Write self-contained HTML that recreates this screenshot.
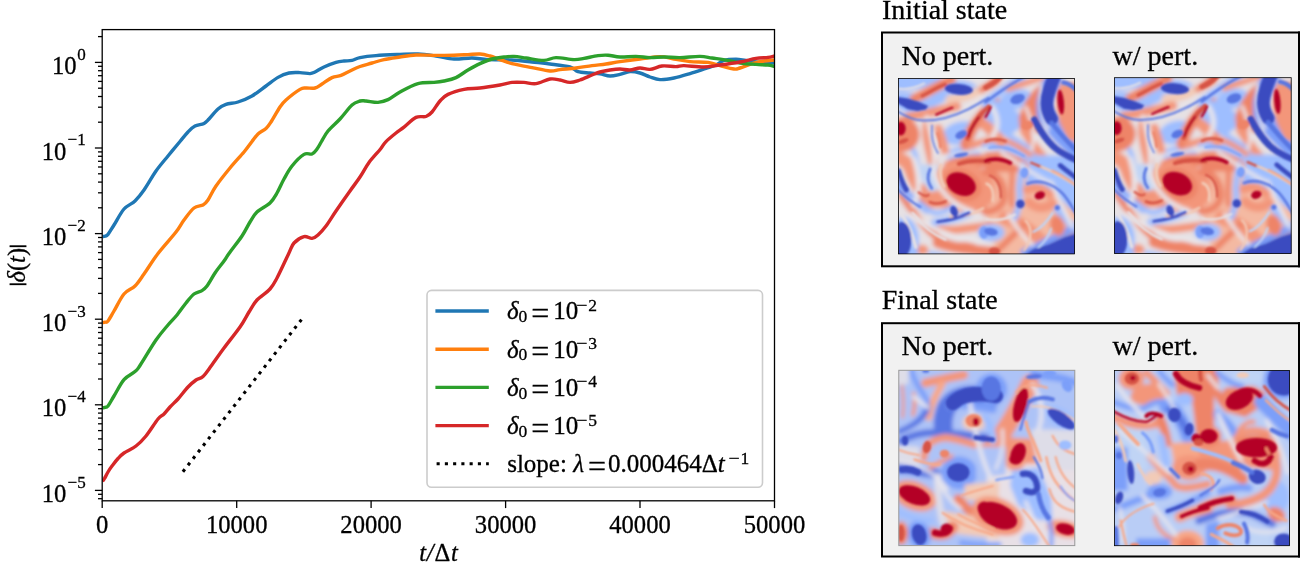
<!DOCTYPE html>
<html lang="en"><head><meta charset="utf-8"><title>Perturbation growth</title>
<style>html,body{margin:0;padding:0;background:#fff;}body{width:1300px;height:562px;overflow:hidden;position:relative;}svg{display:block;position:absolute;left:0;top:0;}text{font-family:"Liberation Serif", serif;fill:#000;stroke:#000;stroke-width:0.3px;}.it{font-style:italic;}</style></head><body>
<svg width="1300" height="562" viewBox="0 0 1300 562">
<rect x="0" y="0" width="1300" height="562" fill="#fff"/>
<defs><clipPath id="axclip"><rect x="102.2" y="29.6" width="672.3" height="471.2"/></clipPath></defs>
<g clip-path="url(#axclip)" fill="none" stroke-width="3.4" stroke-linejoin="round" stroke-linecap="butt">
<path d="M102.5,236.6C102.9,236.5 104.1,236.6 105.0,236.2C105.9,235.8 106.5,236.3 108.0,234.4C109.5,232.5 111.3,229.2 114.0,225.0C116.7,220.8 120.5,213.0 124.0,209.0C127.5,205.0 131.7,204.2 135.0,201.0C138.3,197.8 140.5,195.0 144.0,190.0C147.5,185.0 152.0,176.7 156.0,171.0C160.0,165.3 164.0,160.9 168.0,156.0C172.0,151.1 176.7,145.5 180.0,141.5C183.3,137.5 185.5,134.6 188.0,132.0C190.5,129.4 192.3,127.4 195.0,126.0C197.7,124.6 201.7,124.6 204.0,123.4C206.3,122.2 206.7,121.4 209.0,119.0C211.3,116.6 215.2,111.4 218.0,109.0C220.8,106.6 222.7,105.6 226.0,104.4C229.3,103.2 233.7,103.4 238.0,102.0C242.3,100.6 247.3,98.7 252.0,96.0C256.7,93.3 261.7,89.1 266.0,86.0C270.3,82.9 274.2,79.6 278.0,77.4C281.8,75.2 285.3,73.8 289.0,73.0C292.7,72.2 296.5,72.5 300.0,72.6C303.5,72.7 307.5,73.7 310.0,73.6C312.5,73.5 312.7,73.1 315.0,72.0C317.3,70.9 320.5,68.6 324.0,67.0C327.5,65.4 332.7,63.4 336.0,62.4C339.3,61.4 341.3,61.3 344.0,61.0C346.7,60.7 349.3,61.0 352.0,60.4C354.7,59.8 356.0,58.4 360.0,57.6C364.0,56.8 369.3,56.1 376.0,55.6C382.7,55.1 393.0,54.7 400.0,54.4C407.0,54.1 412.0,53.7 418.0,54.0C424.0,54.3 430.0,55.2 436.0,56.0C442.0,56.8 448.0,58.7 454.0,59.0C460.0,59.3 466.3,57.9 472.0,58.0C477.7,58.1 481.3,59.3 488.0,59.6C494.7,59.9 504.7,59.6 512.0,60.0C519.3,60.4 525.7,61.3 532.0,62.0C538.3,62.7 543.7,63.2 550.0,64.0C556.3,64.8 565.3,65.7 570.0,67.0C574.7,68.3 574.7,70.6 578.0,71.6C581.3,72.6 586.3,72.6 590.0,73.0C593.7,73.4 596.7,73.3 600.0,73.8C603.3,74.3 606.7,75.9 610.0,76.0C613.3,76.1 616.7,75.1 620.0,74.4C623.3,73.7 626.7,71.8 630.0,71.6C633.3,71.4 636.7,72.1 640.0,73.0C643.3,73.9 646.7,75.9 650.0,77.0C653.3,78.1 656.0,79.4 660.0,79.6C664.0,79.8 669.0,79.0 674.0,78.0C679.0,77.0 684.7,75.2 690.0,73.6C695.3,72.0 701.7,69.8 706.0,68.4C710.3,67.0 713.0,66.3 716.0,65.0C719.0,63.7 720.7,61.4 724.0,60.4C727.3,59.4 732.3,59.2 736.0,59.2C739.7,59.2 742.0,59.9 746.0,60.4C750.0,60.9 755.2,62.0 760.0,62.4C764.8,62.8 772.1,62.9 774.5,63.0" stroke="#1f77b4"/>
<path d="M102.5,322.6C102.9,322.5 104.1,322.5 105.0,322.2C105.9,321.9 106.5,322.9 108.0,321.0C109.5,319.1 111.3,315.5 114.0,311.0C116.7,306.5 120.5,298.2 124.0,294.0C127.5,289.8 131.7,289.3 135.0,286.0C138.3,282.7 140.2,279.4 144.0,274.0C147.8,268.6 152.7,260.5 158.0,253.5C163.3,246.5 171.7,237.6 176.0,232.0C180.3,226.4 181.0,224.0 184.0,220.0C187.0,216.0 190.8,210.5 194.0,208.0C197.2,205.5 200.7,206.3 203.0,205.0C205.3,203.7 205.8,203.2 208.0,200.0C210.2,196.8 212.3,191.3 216.0,186.0C219.7,180.7 225.3,173.7 230.0,168.0C234.7,162.3 240.3,156.4 244.0,152.0C247.7,147.6 249.7,144.5 252.0,141.5C254.3,138.5 255.7,136.2 258.0,134.0C260.3,131.8 263.8,130.4 266.0,128.4C268.2,126.4 268.7,125.6 271.0,122.0C273.3,118.4 277.5,110.7 280.0,107.0C282.5,103.3 282.7,102.9 286.0,100.0C289.3,97.1 296.7,91.4 300.0,89.4C303.3,87.4 303.5,88.2 306.0,88.0C308.5,87.8 312.3,88.7 315.0,88.0C317.7,87.3 319.2,85.7 322.0,84.0C324.8,82.3 328.8,79.0 332.0,77.6C335.2,76.2 338.0,76.5 341.0,75.4C344.0,74.3 346.8,72.5 350.0,71.0C353.2,69.5 356.3,67.8 360.0,66.5C363.7,65.2 368.0,64.2 372.0,63.0C376.0,61.9 379.3,60.6 384.0,59.6C388.7,58.6 394.7,57.8 400.0,57.0C405.3,56.2 410.0,55.3 416.0,55.0C422.0,54.7 429.7,55.4 436.0,55.4C442.3,55.4 448.7,55.3 454.0,55.2C459.3,55.1 463.7,54.8 468.0,54.6C472.3,54.4 476.3,53.8 480.0,54.0C483.7,54.2 486.7,55.1 490.0,56.0C493.3,56.9 496.3,58.3 500.0,59.6C503.7,60.9 506.7,62.3 512.0,63.6C517.3,64.9 525.7,66.4 532.0,67.6C538.3,68.8 545.3,70.7 550.0,71.0C554.7,71.3 555.7,70.1 560.0,69.6C564.3,69.1 570.7,68.7 576.0,68.0C581.3,67.3 587.0,66.3 592.0,65.6C597.0,64.9 601.3,64.7 606.0,64.0C610.7,63.3 614.3,62.4 620.0,61.6C625.7,60.8 633.3,59.8 640.0,59.0C646.7,58.2 654.3,56.6 660.0,56.6C665.7,56.6 669.0,58.2 674.0,59.0C679.0,59.8 684.3,61.0 690.0,61.6C695.7,62.2 703.0,61.7 708.0,62.4C713.0,63.1 715.7,64.5 720.0,65.6C724.3,66.7 730.7,68.6 734.0,69.0C737.3,69.4 737.0,68.9 740.0,68.0C743.0,67.1 748.0,64.8 752.0,63.6C756.0,62.4 760.2,61.6 764.0,61.0C767.8,60.4 772.8,60.2 774.5,60.0" stroke="#ff7f0e"/>
<path d="M102.5,407.8C102.9,407.7 104.1,407.7 105.0,407.4C105.9,407.1 106.5,407.9 108.0,406.0C109.5,404.1 111.3,400.4 114.0,396.0C116.7,391.6 120.5,383.7 124.0,379.6C127.5,375.5 132.3,374.0 135.0,371.6C137.7,369.2 136.5,370.8 140.0,365.5C143.5,360.2 151.3,346.8 156.0,340.0C160.7,333.2 164.5,329.2 168.0,325.0C171.5,320.8 174.0,318.7 177.0,315.0C180.0,311.3 183.2,306.5 186.0,303.0C188.8,299.5 191.3,296.1 194.0,294.0C196.7,291.9 199.8,291.9 202.0,290.6C204.2,289.3 204.8,288.9 207.0,286.0C209.2,283.1 212.2,277.2 215.0,273.0C217.8,268.8 221.7,264.2 224.0,261.0C226.3,257.8 226.0,257.7 229.0,253.5C232.0,249.3 238.5,241.2 242.0,236.0C245.5,230.8 247.5,226.0 250.0,222.0C252.5,218.0 253.7,215.2 257.0,212.0C260.3,208.8 266.7,206.2 270.0,203.0C273.3,199.8 274.7,197.0 277.0,193.0C279.3,189.0 281.5,183.5 284.0,179.0C286.5,174.5 288.7,170.1 292.0,166.0C295.3,161.9 300.7,156.4 304.0,154.4C307.3,152.4 309.8,154.9 312.0,154.0C314.2,153.1 315.4,151.1 317.0,149.0C318.6,146.9 319.7,144.5 321.5,141.5C323.3,138.5 324.9,134.8 328.0,131.0C331.1,127.2 336.0,123.3 340.0,119.0C344.0,114.7 348.7,108.0 352.0,105.0C355.3,102.0 357.7,101.7 360.0,101.0C362.3,100.3 363.0,100.8 366.0,101.0C369.0,101.2 374.3,102.6 378.0,102.4C381.7,102.2 384.3,101.3 388.0,99.6C391.7,97.9 395.0,94.7 400.0,92.0C405.0,89.3 412.3,85.2 418.0,83.6C423.7,82.0 429.7,82.8 434.0,82.4C438.3,82.0 440.3,81.8 444.0,81.0C447.7,80.2 452.0,79.4 456.0,77.6C460.0,75.8 464.0,72.3 468.0,70.0C472.0,67.7 476.0,65.4 480.0,63.6C484.0,61.8 488.0,60.1 492.0,59.0C496.0,57.9 500.3,57.4 504.0,57.0C507.7,56.6 510.3,56.2 514.0,56.4C517.7,56.6 521.0,57.3 526.0,58.0C531.0,58.7 539.0,60.5 544.0,60.4C549.0,60.3 551.0,57.7 556.0,57.6C561.0,57.5 569.3,59.5 574.0,59.6C578.7,59.7 580.0,59.1 584.0,58.4C588.0,57.7 594.0,56.1 598.0,55.6C602.0,55.1 604.3,55.0 608.0,55.2C611.7,55.4 615.3,56.8 620.0,57.0C624.7,57.2 631.0,56.3 636.0,56.4C641.0,56.5 645.3,57.5 650.0,57.6C654.7,57.7 659.0,57.0 664.0,57.0C669.0,57.0 674.0,57.7 680.0,57.6C686.0,57.5 694.7,56.3 700.0,56.4C705.3,56.5 707.3,57.3 712.0,58.0C716.7,58.7 723.3,59.6 728.0,60.4C732.7,61.2 735.3,62.3 740.0,63.0C744.7,63.7 751.3,64.1 756.0,64.4C760.7,64.7 764.9,64.7 768.0,65.0C771.1,65.3 773.4,66.2 774.5,66.4" stroke="#2ca02c"/>
<path d="M102.5,481.5C102.8,481.0 103.6,480.1 104.5,478.5C105.4,476.9 106.8,474.1 108.0,472.0C109.2,469.9 110.3,468.2 112.0,466.0C113.7,463.8 116.0,460.7 118.0,458.5C120.0,456.3 121.0,455.1 124.0,453.0C127.0,450.9 132.3,448.8 136.0,446.0C139.7,443.2 142.3,440.5 146.0,436.0C149.7,431.5 155.0,422.7 158.0,419.0C161.0,415.3 162.0,416.0 164.0,414.0C166.0,412.0 167.7,409.5 170.0,407.0C172.3,404.5 175.0,402.3 178.0,399.0C181.0,395.7 185.0,390.2 188.0,387.0C191.0,383.8 193.5,381.8 196.0,380.0C198.5,378.2 200.4,378.8 203.0,376.4C205.6,374.0 208.0,370.2 211.5,365.5C215.0,360.8 219.2,354.4 224.0,348.0C228.8,341.6 235.8,333.0 240.0,327.0C244.2,321.0 246.2,316.5 249.0,312.0C251.8,307.5 253.5,303.8 257.0,300.0C260.5,296.2 266.7,292.7 270.0,289.0C273.3,285.3 273.9,283.8 277.0,278.0C280.1,272.2 285.7,259.8 288.5,254.0C291.3,248.2 291.4,245.9 294.0,243.0C296.6,240.1 301.0,237.4 304.0,236.6C307.0,235.8 309.7,238.7 312.0,238.4C314.3,238.1 315.7,237.1 318.0,235.0C320.3,232.9 323.0,230.0 326.0,226.0C329.0,222.0 332.0,216.8 336.0,211.0C340.0,205.2 346.0,196.7 350.0,191.0C354.0,185.3 356.8,181.8 360.0,177.0C363.2,172.2 365.6,167.1 369.0,162.4C372.4,157.7 377.9,152.2 380.7,148.7C383.5,145.2 383.4,144.2 386.0,141.6C388.6,139.0 393.0,135.4 396.0,133.0C399.0,130.6 400.7,129.8 404.0,127.2C407.3,124.6 412.3,119.2 416.0,117.4C419.7,115.6 423.3,117.4 426.0,116.5C428.7,115.6 429.7,114.6 432.0,112.0C434.3,109.4 437.3,103.9 440.0,101.0C442.7,98.1 444.0,96.3 448.0,94.4C452.0,92.5 458.7,90.5 464.0,89.4C469.3,88.3 474.0,88.7 480.0,88.0C486.0,87.3 494.7,85.9 500.0,85.0C505.3,84.1 508.0,82.8 512.0,82.4C516.0,82.0 520.0,82.2 524.0,82.4C528.0,82.6 531.7,84.2 536.0,83.6C540.3,83.0 546.0,79.6 550.0,79.0C554.0,78.4 556.7,79.4 560.0,80.0C563.3,80.6 566.7,82.4 570.0,82.4C573.3,82.4 576.3,81.2 580.0,80.0C583.7,78.8 588.7,76.3 592.0,75.0C595.3,73.7 597.0,72.8 600.0,72.0C603.0,71.2 606.7,70.5 610.0,70.0C613.3,69.5 616.7,69.0 620.0,69.0C623.3,69.0 626.7,70.2 630.0,70.0C633.3,69.8 636.7,68.1 640.0,68.0C643.3,67.9 646.3,69.7 650.0,69.4C653.7,69.1 657.7,66.5 662.0,66.0C666.3,65.5 672.3,66.7 676.0,66.6C679.7,66.5 679.3,65.5 684.0,65.6C688.7,65.7 698.0,67.1 704.0,67.0C710.0,66.9 714.0,65.8 720.0,65.0C726.0,64.2 734.0,63.1 740.0,62.0C746.0,60.9 751.3,59.2 756.0,58.4C760.7,57.6 764.9,57.8 768.0,57.4C771.1,57.0 773.4,56.2 774.5,56.0" stroke="#d62728"/>
<path d="M182.9,471.7 L303.9,316.5" stroke="#000" stroke-width="3.1" stroke-dasharray="3.1 5.15"/>
</g>
<g stroke="#000" stroke-width="1.30" fill="none">
<path d="M102.2,62.4 h-7.3"/>
<path d="M102.2,148.0 h-7.3"/>
<path d="M102.2,233.6 h-7.3"/>
<path d="M102.2,319.2 h-7.3"/>
<path d="M102.2,404.8 h-7.3"/>
<path d="M102.2,490.4 h-7.3"/>
<path d="M102.2,36.6 h-4.2"/>
<path d="M102.2,122.2 h-4.2"/>
<path d="M102.2,107.2 h-4.2"/>
<path d="M102.2,96.5 h-4.2"/>
<path d="M102.2,88.2 h-4.2"/>
<path d="M102.2,81.4 h-4.2"/>
<path d="M102.2,75.7 h-4.2"/>
<path d="M102.2,70.7 h-4.2"/>
<path d="M102.2,66.3 h-4.2"/>
<path d="M102.2,207.8 h-4.2"/>
<path d="M102.2,192.8 h-4.2"/>
<path d="M102.2,182.1 h-4.2"/>
<path d="M102.2,173.8 h-4.2"/>
<path d="M102.2,167.0 h-4.2"/>
<path d="M102.2,161.3 h-4.2"/>
<path d="M102.2,156.3 h-4.2"/>
<path d="M102.2,151.9 h-4.2"/>
<path d="M102.2,293.4 h-4.2"/>
<path d="M102.2,278.4 h-4.2"/>
<path d="M102.2,267.7 h-4.2"/>
<path d="M102.2,259.4 h-4.2"/>
<path d="M102.2,252.6 h-4.2"/>
<path d="M102.2,246.9 h-4.2"/>
<path d="M102.2,241.9 h-4.2"/>
<path d="M102.2,237.5 h-4.2"/>
<path d="M102.2,379.0 h-4.2"/>
<path d="M102.2,364.0 h-4.2"/>
<path d="M102.2,353.3 h-4.2"/>
<path d="M102.2,345.0 h-4.2"/>
<path d="M102.2,338.2 h-4.2"/>
<path d="M102.2,332.5 h-4.2"/>
<path d="M102.2,327.5 h-4.2"/>
<path d="M102.2,323.1 h-4.2"/>
<path d="M102.2,464.6 h-4.2"/>
<path d="M102.2,449.6 h-4.2"/>
<path d="M102.2,438.9 h-4.2"/>
<path d="M102.2,430.6 h-4.2"/>
<path d="M102.2,423.8 h-4.2"/>
<path d="M102.2,418.1 h-4.2"/>
<path d="M102.2,413.1 h-4.2"/>
<path d="M102.2,408.7 h-4.2"/>
<path d="M102.2,498.7 h-4.2"/>
<path d="M102.2,494.3 h-4.2"/>
<path d="M102.2,500.8 v7.3"/>
<path d="M236.7,500.8 v7.3"/>
<path d="M371.1,500.8 v7.3"/>
<path d="M505.6,500.8 v7.3"/>
<path d="M640.0,500.8 v7.3"/>
<path d="M774.5,500.8 v7.3"/>
<rect x="102.2" y="29.6" width="672.3" height="471.2"/>
</g>
<text x="102.2" y="532.6" font-size="24.6" text-anchor="middle">0</text>
<text x="236.7" y="532.6" font-size="24.6" text-anchor="middle">10000</text>
<text x="371.1" y="532.6" font-size="24.6" text-anchor="middle">20000</text>
<text x="505.6" y="532.6" font-size="24.6" text-anchor="middle">30000</text>
<text x="640.0" y="532.6" font-size="24.6" text-anchor="middle">40000</text>
<text x="774.5" y="532.6" font-size="24.6" text-anchor="middle">50000</text>
<text x="76.6" y="73.9" font-size="24.6" text-anchor="end">10</text>
<text x="77.2" y="59.8" font-size="17">0</text>
<text x="66.4" y="159.5" font-size="24.6" text-anchor="end">10</text>
<text x="67.6" y="145.4" font-size="17">−1</text>
<text x="66.4" y="245.1" font-size="24.6" text-anchor="end">10</text>
<text x="67.6" y="231.0" font-size="17">−2</text>
<text x="66.4" y="330.7" font-size="24.6" text-anchor="end">10</text>
<text x="67.6" y="316.6" font-size="17">−3</text>
<text x="66.4" y="416.3" font-size="24.6" text-anchor="end">10</text>
<text x="67.6" y="402.2" font-size="17">−4</text>
<text x="66.4" y="501.9" font-size="24.6" text-anchor="end">10</text>
<text x="67.6" y="487.8" font-size="17">−5</text>
<text x="438.5" y="561" font-size="24.5" text-anchor="middle" class="it" textLength="38.5" lengthAdjust="spacing">t/<tspan font-style="normal">Δ</tspan>t</text>
<text transform="translate(25.2,265.2) rotate(-90)" font-size="24.5" text-anchor="middle"><tspan font-size="17.5" dy="-3.6" style="stroke-width:0.9px">|</tspan><tspan class="it" dy="3.6">δ</tspan>(<tspan class="it">t</tspan>)<tspan font-size="17.5" dy="-3.6" style="stroke-width:0.9px">|</tspan></text>
<rect x="427" y="290.4" width="335.5" height="196.8" rx="4.5" ry="4.5" fill="#fff" fill-opacity="0.8" stroke="#ccc" stroke-width="1.6"/>
<path d="M435.4,311.0 H488.8" stroke="#1f77b4" stroke-width="3.4" fill="none"/>
<text x="507" y="319.4" font-size="25" class="it">δ</text>
<text x="518.6" y="322.2" font-size="17.5">0</text>
<text x="531.2" y="324.0" font-size="32">=</text>
<text x="553.2" y="319.4" font-size="25">10</text>
<text x="576.2" y="311.0" font-size="17.5" textLength="11.2" lengthAdjust="spacingAndGlyphs">−</text>
<text x="588.2" y="311.0" font-size="17.5">2</text>
<path d="M435.4,349.2 H488.8" stroke="#ff7f0e" stroke-width="3.4" fill="none"/>
<text x="507" y="357.6" font-size="25" class="it">δ</text>
<text x="518.6" y="360.4" font-size="17.5">0</text>
<text x="531.2" y="362.2" font-size="32">=</text>
<text x="553.2" y="357.6" font-size="25">10</text>
<text x="576.2" y="349.2" font-size="17.5" textLength="11.2" lengthAdjust="spacingAndGlyphs">−</text>
<text x="588.2" y="349.2" font-size="17.5">3</text>
<path d="M435.4,387.4 H488.8" stroke="#2ca02c" stroke-width="3.4" fill="none"/>
<text x="507" y="395.8" font-size="25" class="it">δ</text>
<text x="518.6" y="398.6" font-size="17.5">0</text>
<text x="531.2" y="400.4" font-size="32">=</text>
<text x="553.2" y="395.8" font-size="25">10</text>
<text x="576.2" y="387.4" font-size="17.5" textLength="11.2" lengthAdjust="spacingAndGlyphs">−</text>
<text x="588.2" y="387.4" font-size="17.5">4</text>
<path d="M435.4,425.6 H488.8" stroke="#d62728" stroke-width="3.4" fill="none"/>
<text x="507" y="434.0" font-size="25" class="it">δ</text>
<text x="518.6" y="436.8" font-size="17.5">0</text>
<text x="531.2" y="438.6" font-size="32">=</text>
<text x="553.2" y="434.0" font-size="25">10</text>
<text x="576.2" y="425.6" font-size="17.5" textLength="11.2" lengthAdjust="spacingAndGlyphs">−</text>
<text x="588.2" y="425.6" font-size="17.5">5</text>
<path d="M436.6,463.8 H488.8" stroke="#000" stroke-width="3.1" stroke-dasharray="3.1 5.15" fill="none"/>
<text x="507.2" y="472.2" font-size="25">slope: <tspan class="it">λ</tspan></text>
<text x="588" y="476.8" font-size="32">=</text>
<text x="608" y="472.2" font-size="25">0.000464Δ<tspan class="it">t</tspan></text>
<text x="728.5" y="463.8" font-size="17.5" textLength="11.2" lengthAdjust="spacingAndGlyphs">−</text>
<text x="740.5" y="463.8" font-size="17.5">1</text>
<rect x="882" y="32.5" width="420" height="233.8" fill="#f1f1f1" stroke="#000" stroke-width="2"/>
<rect x="882" y="323.2" width="420" height="233.3" fill="#f1f1f1" stroke="#000" stroke-width="2"/>
<rect x="1298" y="31.5" width="2" height="235.8" fill="#000"/>
<rect x="1298" y="322.2" width="2" height="235.3" fill="#000"/>
<text x="882" y="19.2" font-size="28">Initial state</text>
<text x="881.8" y="309.4" font-size="28">Final state</text>
<text x="901.5" y="64.6" font-size="28">No pert.</text>
<text x="1112.6" y="64.5" font-size="28">w/ pert.</text>
<text x="901.5" y="354.6" font-size="28">No pert.</text>
<text x="1112.6" y="354.5" font-size="28">w/ pert.</text>
<defs><filter id="bf1" x="-20%" y="-20%" width="140%" height="140%"><feGaussianBlur stdDeviation="1.90"/></filter><filter id="bd1" x="-20%" y="-20%" width="140%" height="140%"><feGaussianBlur stdDeviation="0.85"/></filter><clipPath id="ic1"><rect x="0" y="0" width="176.0" height="176.0"/></clipPath>
<clipPath id="qc1_0"><rect x="-70" y="-70" width="632" height="632"/></clipPath>
<clipPath id="qc1_1"><rect x="0" y="-70" width="632" height="632"/></clipPath>
<clipPath id="qc1_2"><rect x="-70" y="0" width="632" height="632"/></clipPath>
<clipPath id="qc1_3"><rect x="0" y="0" width="632" height="632"/></clipPath>
<clipPath id="qc1_4"><rect x="0" y="0" width="562" height="562"/></clipPath>
</defs>
<g transform="translate(898.50,78.40) scale(1.00057,0.99716)">
<g clip-path="url(#ic1)"><g ><rect x="-20" y="-20" width="216.0" height="216.0" fill="#c8c8d8"/>
<g filter="url(#bf1)">
<g transform="translate(0.00,0.00) scale(0.15658)"><g clip-path="url(#qc1_0)">
<rect x="-80" y="-80" width="722" height="722" fill="#e6e1e4"/>
</g></g>
<g transform="translate(88.00,0.00) scale(0.15658)"><g clip-path="url(#qc1_1)">
<rect x="-80" y="-80" width="722" height="722" fill="#e6e1e4"/>
</g></g>
<g transform="translate(0.00,88.00) scale(0.15658)"><g clip-path="url(#qc1_2)">
<rect x="-80" y="-80" width="722" height="722" fill="#e6e1e4"/>
</g></g>
<g transform="translate(88.00,88.00) scale(0.15658)"><g clip-path="url(#qc1_3)">
<rect x="-80" y="-80" width="722" height="722" fill="#f4b9a2"/>
</g></g>
<g transform="translate(-4.58,-4.58) scale(0.32740)"><g clip-path="url(#qc1_4)">
</g></g>
<g transform="translate(0.00,0.00) scale(0.15658)">
<polygon points="-70,-70 300,-70 262,18 150,62 0,84 -70,84" fill="#9ebeff"/>
<ellipse cx="100" cy="165" rx="150" ry="68" transform="rotate(15 100 165)" fill="#9ebeff"/>
<ellipse cx="385" cy="70" rx="122" ry="58" transform="rotate(0 385 70)" fill="#9ebeff"/>
<ellipse cx="250" cy="128" rx="70" ry="40" transform="rotate(-25 250 128)" fill="#9ebeff"/>
<ellipse cx="392" cy="350" rx="112" ry="72" transform="rotate(-15 392 350)" fill="#9ebeff"/>
<ellipse cx="412" cy="482" rx="112" ry="46" transform="rotate(-5 412 482)" fill="#9ebeff"/>
<path d="M60,430 C100,445 120,490 128,620" fill="none" stroke="#9ebeff" stroke-width="30" stroke-linecap="round" stroke-linejoin="round"/>
<path d="M330,135 C420,125 500,95 620,40" fill="none" stroke="#f2cbb7" stroke-width="62" stroke-linecap="round" stroke-linejoin="round"/>
<path d="M100,132 C170,95 250,50 338,8" fill="none" stroke="#ee8468" stroke-width="62" stroke-linecap="round" stroke-linejoin="round"/>
<path d="M60,246 C200,222 290,196 372,180" fill="none" stroke="#f3967a" stroke-width="56" stroke-linecap="round" stroke-linejoin="round"/>
<ellipse cx="20" cy="360" rx="115" ry="112" transform="rotate(0 20 360)" fill="#ee8468"/>
<path d="M430,425 C460,320 520,230 620,160" fill="none" stroke="#ee8468" stroke-width="72" stroke-linecap="round" stroke-linejoin="round"/>
<path d="M185,290 C170,380 200,460 238,620" fill="none" stroke="#f3967a" stroke-width="60" stroke-linecap="round" stroke-linejoin="round"/>
<path d="M255,320 C280,380 290,420 298,470" fill="none" stroke="#f3967a" stroke-width="52" stroke-linecap="round" stroke-linejoin="round"/>
<path d="M330,565 C420,525 500,522 620,535" fill="none" stroke="#ee8468" stroke-width="84" stroke-linecap="round" stroke-linejoin="round"/>
<path d="M-30,500 C40,520 70,545 90,620" fill="none" stroke="#f3967a" stroke-width="84" stroke-linecap="round" stroke-linejoin="round"/>
<path d="M465,432 C500,412 550,402 620,388" fill="none" stroke="#f3967a" stroke-width="44" stroke-linecap="round" stroke-linejoin="round"/>
</g>
<g transform="translate(88.00,0.00) scale(0.15658)">
<path d="M445,-40 C400,70 360,120 355,170 C355,220 400,280 470,360 C510,400 540,440 620,500" fill="none" stroke="#7b9ff9" stroke-width="110" stroke-linecap="round" stroke-linejoin="round"/>
<ellipse cx="185" cy="135" rx="105" ry="62" transform="rotate(-15 185 135)" fill="#9ebeff"/>
<polygon points="-10,140 110,150 210,225 235,300 165,355 60,315 -10,295" fill="#9ebeff"/>
<path d="M-10,158 C60,100 130,50 240,-20" fill="none" stroke="#9ebeff" stroke-width="50" stroke-linecap="round" stroke-linejoin="round"/>
<path d="M-10,440 C80,420 150,440 250,500 C290,520 330,540 360,580" fill="none" stroke="#9ebeff" stroke-width="46" stroke-linecap="round" stroke-linejoin="round"/>
<path d="M90,330 C160,380 240,420 300,470 C340,500 380,540 410,580" fill="none" stroke="#9ebeff" stroke-width="34" stroke-linecap="round" stroke-linejoin="round"/>
<path d="M-20,70 C30,45 60,15 85,-30" fill="none" stroke="#ee8468" stroke-width="56" stroke-linecap="round" stroke-linejoin="round"/>
<path d="M140,66 C200,42 270,28 350,-5" fill="none" stroke="#f3967a" stroke-width="40" stroke-linecap="round" stroke-linejoin="round"/>
<polygon points="345,35 320,150 320,250 350,350 215,345 205,250 240,160 295,80" fill="#ee8468"/>
<path d="M-10,300 C30,330 60,370 95,405" fill="none" stroke="#f3967a" stroke-width="70" stroke-linecap="round" stroke-linejoin="round"/>
<path d="M130,400 C200,430 280,480 350,550" fill="none" stroke="#f3967a" stroke-width="34" stroke-linecap="round" stroke-linejoin="round"/>
<path d="M240,340 C280,400 320,460 395,540" fill="none" stroke="#f3967a" stroke-width="52" stroke-linecap="round" stroke-linejoin="round"/>
<polygon points="-10,475 120,465 255,528 300,600 -10,600" fill="#ee8468"/>
<polygon points="475,30 640,20 640,430 520,395 468,290 442,200 446,90" fill="#f3967a"/>
</g>
<g transform="translate(0.00,88.00) scale(0.15658)">
<ellipse cx="420" cy="135" rx="200" ry="160" transform="rotate(20 420 135)" fill="#f3967a"/>
<ellipse cx="405" cy="120" rx="130" ry="100" transform="rotate(25 405 120)" fill="#ee8468"/>
<path d="M20,180 C80,280 160,400 260,470 C330,510 400,520 470,500" fill="none" stroke="#f3967a" stroke-width="46" stroke-linecap="round" stroke-linejoin="round"/>
<path d="M230,400 C330,420 430,400 580,380" fill="none" stroke="#f3967a" stroke-width="52" stroke-linecap="round" stroke-linejoin="round"/>
<path d="M250,490 C350,530 450,530 600,550" fill="none" stroke="#ee8468" stroke-width="66" stroke-linecap="round" stroke-linejoin="round"/>
<polygon points="95,95 200,125 335,200 335,268 200,268 115,205" fill="#f3967a"/>
<ellipse cx="150" cy="535" rx="42" ry="32" transform="rotate(0 150 535)" fill="#f3967a"/>
<path d="M40,-10 C60,60 80,110 110,150" fill="none" stroke="#f3967a" stroke-width="30" stroke-linecap="round" stroke-linejoin="round"/>
<polygon points="125,-10 255,-10 245,70 255,155 200,165 148,90" fill="#c0d4f5"/>
<path d="M-10,105 C40,170 100,220 180,280" fill="none" stroke="#7b9ff9" stroke-width="44" stroke-linecap="round" stroke-linejoin="round"/>
<path d="M-10,150 C60,200 140,260 230,300 C280,310 320,270 352,262" fill="none" stroke="#9ebeff" stroke-width="34" stroke-linecap="round" stroke-linejoin="round"/>
<path d="M232,360 C300,352 380,338 452,300" fill="none" stroke="#9ebeff" stroke-width="46" stroke-linecap="round" stroke-linejoin="round"/>
<ellipse cx="30" cy="470" rx="100" ry="145" transform="rotate(0 30 470)" fill="#9ebeff"/>
<path d="M95,500 C105,530 115,550 122,600" fill="none" stroke="#9ebeff" stroke-width="26" stroke-linecap="round" stroke-linejoin="round"/>
<path d="M200,556 C240,560 270,566 310,580" fill="none" stroke="#9ebeff" stroke-width="26" stroke-linecap="round" stroke-linejoin="round"/>
<path d="M10,185 C80,290 160,400 265,468 C330,505 400,515 470,500" fill="none" stroke="#ee8468" stroke-width="34" stroke-linecap="round" stroke-linejoin="round"/>
</g>
<g transform="translate(88.00,88.00) scale(0.15658)">
<path d="M160,-10 C170,80 150,160 162,252" fill="none" stroke="#ee8468" stroke-width="30" stroke-linecap="round" stroke-linejoin="round"/>
<path d="M120,330 C200,360 300,420 380,520" fill="none" stroke="#f3967a" stroke-width="90" stroke-linecap="round" stroke-linejoin="round"/>
<path d="M-10,38 C60,40 112,100 112,190 C112,250 60,290 -10,294" fill="none" stroke="#ee8468" stroke-width="44" stroke-linecap="round" stroke-linejoin="round"/>
<polygon points="285,-70 640,-70 640,340 520,262 440,172 360,112 245,128" fill="#9ebeff"/>
<path d="M232,-10 C222,60 202,120 212,180 C216,230 202,280 182,330" fill="none" stroke="#9ebeff" stroke-width="40" stroke-linecap="round" stroke-linejoin="round"/>
<ellipse cx="30" cy="425" rx="85" ry="56" transform="rotate(0 30 425)" fill="#9ebeff"/>
<path d="M440,262 C470,300 500,340 580,410" fill="none" stroke="#9ebeff" stroke-width="48" stroke-linecap="round" stroke-linejoin="round"/>
<path d="M240,552 C350,502 450,452 600,372" fill="none" stroke="#7b9ff9" stroke-width="48" stroke-linecap="round" stroke-linejoin="round"/>
<path d="M260,150 C300,130 350,140 402,180" fill="none" stroke="#f3967a" stroke-width="60" stroke-linecap="round" stroke-linejoin="round"/>
<path d="M270,230 C320,280 380,270 422,240" fill="none" stroke="#f3967a" stroke-width="60" stroke-linecap="round" stroke-linejoin="round"/>
<ellipse cx="452" cy="380" rx="46" ry="68" transform="rotate(-15 452 380)" fill="#ee8468"/>
<path d="M90,522 C150,460 200,420 232,380" fill="none" stroke="#ee8468" stroke-width="40" stroke-linecap="round" stroke-linejoin="round"/>
<ellipse cx="45" cy="548" rx="44" ry="34" transform="rotate(0 45 548)" fill="#ee8468"/>
<polygon points="640,400 500,455 400,502 300,532 200,600 640,640" fill="#3b4cc0"/>
</g>
<g transform="translate(-4.58,-4.58) scale(0.32740)">
<path d="M100,132 C116,190 126,240 122,285" fill="none" stroke="#e9e6ea" stroke-width="12" stroke-linecap="round" stroke-linejoin="round"/>
<path d="M62,262 C80,320 78,370 60,402" fill="none" stroke="#e9e6ea" stroke-width="15" stroke-linecap="round" stroke-linejoin="round"/>
<path d="M120,292 C130,350 170,400 240,422" fill="none" stroke="#e9e6ea" stroke-width="14" stroke-linecap="round" stroke-linejoin="round"/>
<path d="M330,242 C400,290 440,315 472,332" fill="none" stroke="#e9e6ea" stroke-width="12" stroke-linecap="round" stroke-linejoin="round"/>
<path d="M300,102 C322,140 318,170 300,192" fill="none" stroke="#e9e6ea" stroke-width="15" stroke-linecap="round" stroke-linejoin="round"/>
<path d="M50,432 C120,480 200,510 300,522" fill="none" stroke="#e9e6ea" stroke-width="14" stroke-linecap="round" stroke-linejoin="round"/>
<path d="M350,432 C380,480 400,505 422,522" fill="none" stroke="#e9e6ea" stroke-width="12" stroke-linecap="round" stroke-linejoin="round"/>
<path d="M480,332 C515,410 530,440 546,470" fill="none" stroke="#e9e6ea" stroke-width="12" stroke-linecap="round" stroke-linejoin="round"/>
<path d="M402,102 C430,160 432,200 420,232" fill="none" stroke="#e9e6ea" stroke-width="10" stroke-linecap="round" stroke-linejoin="round"/>
<path d="M200,120 C230,90 270,60 320,40" fill="none" stroke="#e9e6ea" stroke-width="8" stroke-linecap="round" stroke-linejoin="round"/>
<path d="M150,250 C200,245 240,238 290,228" fill="none" stroke="#e9e6ea" stroke-width="8" stroke-linecap="round" stroke-linejoin="round"/>
<path d="M452,40 C446,90 452,130 470,170" fill="none" stroke="#e9e6ea" stroke-width="10" stroke-linecap="round" stroke-linejoin="round"/>
</g>
</g>
<g filter="url(#bd1)">
<g transform="translate(0.00,0.00) scale(0.15658)">
<path d="M0,66 C60,76 110,60 165,32" fill="none" stroke="#e6e1e4" stroke-width="12" stroke-linecap="round" stroke-linejoin="round"/>
<path d="M150,112 C200,86 250,56 298,38" fill="none" stroke="#d65244" stroke-width="20" stroke-linecap="round" stroke-linejoin="round"/>
<path d="M240,232 C280,215 315,196 345,188" fill="none" stroke="#b40426" stroke-width="14" stroke-linecap="round" stroke-linejoin="round"/>
<path d="M440,385 C460,320 510,240 575,180" fill="none" stroke="#d65244" stroke-width="28" stroke-linecap="round" stroke-linejoin="round"/>
<path d="M446,372 C458,325 486,285 512,250" fill="none" stroke="#b40426" stroke-width="14" stroke-linecap="round" stroke-linejoin="round"/>
<ellipse cx="14" cy="322" rx="32" ry="44" transform="rotate(0 14 322)" fill="#b40426"/>
<ellipse cx="30" cy="402" rx="36" ry="14" transform="rotate(-20 30 402)" fill="#d65244"/>
<path d="M385,547 C450,524 520,524 580,534" fill="none" stroke="#d65244" stroke-width="26" stroke-linecap="round" stroke-linejoin="round"/>
<path d="M250,350 C262,385 268,410 270,440" fill="none" stroke="#ee8468" stroke-width="18" stroke-linecap="round" stroke-linejoin="round"/>
<path d="M-10,210 C60,250 100,268 160,270 C260,272 360,240 450,195 C500,170 530,150 575,124" fill="none" stroke="#5876e2" stroke-width="13" stroke-linecap="round" stroke-linejoin="round"/>
<path d="M214,300 C208,380 220,425 252,480" fill="none" stroke="#5876e2" stroke-width="9" stroke-linecap="round" stroke-linejoin="round"/>
<ellipse cx="400" cy="360" rx="40" ry="24" transform="rotate(-25 400 360)" fill="#5876e2"/>
<ellipse cx="400" cy="490" rx="46" ry="13" transform="rotate(-10 400 490)" fill="#5876e2"/>
<polygon points="-20,116 60,128 130,150 190,176 174,199 120,209 60,198 20,174 -20,150" fill="#3b4cc0"/>
<ellipse cx="385" cy="70" rx="90" ry="35" transform="rotate(5 385 70)" fill="#3b4cc0"/>
</g>
<g transform="translate(88.00,0.00) scale(0.15658)">
<path d="M-5,58 C30,42 60,22 86,-5" fill="none" stroke="#d65244" stroke-width="32" stroke-linecap="round" stroke-linejoin="round"/>
<ellipse cx="262" cy="300" rx="38" ry="28" transform="rotate(-20 262 300)" fill="#ee8468"/>
<path d="M-6,246 C10,220 20,200 26,184" fill="none" stroke="#b40426" stroke-width="16" stroke-linecap="round" stroke-linejoin="round"/>
<path d="M-6,404 C40,382 80,386 122,402" fill="none" stroke="#d65244" stroke-width="16" stroke-linecap="round" stroke-linejoin="round"/>
<path d="M-6,529 C50,506 100,516 152,542" fill="none" stroke="#b40426" stroke-width="24" stroke-linecap="round" stroke-linejoin="round"/>
<path d="M285,540 C310,552 330,558 356,570" fill="none" stroke="#d65244" stroke-width="15" stroke-linecap="round" stroke-linejoin="round"/>
<ellipse cx="474" cy="152" rx="20" ry="80" transform="rotate(-5 474 152)" fill="#b40426"/>
<path d="M-6,154 C60,100 130,50 240,-10" fill="none" stroke="#5876e2" stroke-width="15" stroke-linecap="round" stroke-linejoin="round"/>
<ellipse cx="198" cy="132" rx="48" ry="30" transform="rotate(-20 198 132)" fill="#5876e2"/>
<path d="M490,26 C520,30 545,45 580,80" fill="none" stroke="#5876e2" stroke-width="28" stroke-linecap="round" stroke-linejoin="round"/>
<path d="M15,445 C90,428 150,446 240,498" fill="none" stroke="#7b9ff9" stroke-width="12" stroke-linecap="round" stroke-linejoin="round"/>
<path d="M440,-30 C410,40 385,100 385,160 C386,200 398,232 415,258" fill="none" stroke="#3b4cc0" stroke-width="82" stroke-linecap="round" stroke-linejoin="round"/>
<path d="M305,265 C340,330 390,420 470,470 C510,495 540,510 590,530" fill="none" stroke="#3b4cc0" stroke-width="42" stroke-linecap="round" stroke-linejoin="round"/>
<path d="M415,285 C450,330 500,390 580,470" fill="none" stroke="#5876e2" stroke-width="30" stroke-linecap="round" stroke-linejoin="round"/>
</g>
<g transform="translate(0.00,88.00) scale(0.15658)">
<path d="M270,-5 C262,40 266,90 290,130" fill="none" stroke="#f2cbb7" stroke-width="24" stroke-linecap="round" stroke-linejoin="round"/>
<path d="M90,300 C150,380 220,440 300,470" fill="none" stroke="#e6e1e4" stroke-width="16" stroke-linecap="round" stroke-linejoin="round"/>
<path d="M10,290 C50,350 90,420 110,520" fill="none" stroke="#e6e1e4" stroke-width="22" stroke-linecap="round" stroke-linejoin="round"/>
<path d="M330,322 C400,330 480,310 540,270" fill="none" stroke="#f2cbb7" stroke-width="16" stroke-linecap="round" stroke-linejoin="round"/>
<ellipse cx="400" cy="115" rx="98" ry="70" transform="rotate(25 400 115)" fill="#b40426"/>
<path d="M128,168 C158,190 180,196 192,184" fill="none" stroke="#d65244" stroke-width="14" stroke-linecap="round" stroke-linejoin="round"/>
<path d="M200,230 C240,246 280,236 302,225" fill="none" stroke="#d65244" stroke-width="16" stroke-linecap="round" stroke-linejoin="round"/>
<path d="M202,18 C182,60 182,100 212,142" fill="none" stroke="#5876e2" stroke-width="18" stroke-linecap="round" stroke-linejoin="round"/>
<path d="M-5,150 C40,195 90,235 140,262" fill="none" stroke="#5876e2" stroke-width="14" stroke-linecap="round" stroke-linejoin="round"/>
<ellipse cx="545" cy="425" rx="28" ry="40" transform="rotate(0 545 425)" fill="#7b9ff9"/>
<path d="M250,356 C300,350 380,336 452,300" fill="none" stroke="#3b4cc0" stroke-width="17" stroke-linecap="round" stroke-linejoin="round"/>
<ellipse cx="355" cy="290" rx="23" ry="37" transform="rotate(-20 355 290)" fill="#3b4cc0"/>
<path d="M0,30 C18,90 30,120 50,152" fill="none" stroke="#3b4cc0" stroke-width="32" stroke-linecap="round" stroke-linejoin="round"/>
<ellipse cx="22" cy="472" rx="60" ry="115" transform="rotate(0 22 472)" fill="#3b4cc0"/>
</g>
<g transform="translate(88.00,88.00) scale(0.15658)">
<path d="M0,112 C30,122 50,160 40,222" fill="none" stroke="#f2cbb7" stroke-width="18" stroke-linecap="round" stroke-linejoin="round"/>
<path d="M-5,340 C60,352 120,342 182,310" fill="none" stroke="#e6e1e4" stroke-width="16" stroke-linecap="round" stroke-linejoin="round"/>
<path d="M350,5 C420,30 500,80 580,130" fill="none" stroke="#f2cbb7" stroke-width="16" stroke-linecap="round" stroke-linejoin="round"/>
<path d="M420,30 C470,50 520,85 580,128" fill="none" stroke="#f7a889" stroke-width="14" stroke-linecap="round" stroke-linejoin="round"/>
<ellipse cx="50" cy="545" rx="36" ry="24" transform="rotate(0 50 545)" fill="#d65244"/>
<ellipse cx="340" cy="187" rx="34" ry="25" transform="rotate(-20 340 187)" fill="#b40426"/>
<path d="M20,60 C70,75 95,130 92,200" fill="none" stroke="#d65244" stroke-width="14" stroke-linecap="round" stroke-linejoin="round"/>
<path d="M250,350 C300,400 280,480 240,540" fill="none" stroke="#f2cbb7" stroke-width="14" stroke-linecap="round" stroke-linejoin="round"/>
<path d="M300,420 C350,400 390,350 422,300" fill="none" stroke="#c0d4f5" stroke-width="15" stroke-linecap="round" stroke-linejoin="round"/>
<path d="M330,520 C380,480 400,440 412,400" fill="none" stroke="#c0d4f5" stroke-width="13" stroke-linecap="round" stroke-linejoin="round"/>
<ellipse cx="242" cy="42" rx="25" ry="34" transform="rotate(10 242 42)" fill="#7b9ff9"/>
<path d="M260,112 C330,82 420,110 480,170 C520,210 545,260 575,312" fill="none" stroke="#5876e2" stroke-width="16" stroke-linecap="round" stroke-linejoin="round"/>
<ellipse cx="452" cy="266" rx="16" ry="16" transform="rotate(0 452 266)" fill="#5876e2"/>
<ellipse cx="28" cy="420" rx="44" ry="25" transform="rotate(10 28 420)" fill="#5876e2"/>
<ellipse cx="216" cy="242" rx="27" ry="27" transform="rotate(0 216 242)" fill="#3b4cc0"/>
<path d="M470,-5 C510,30 540,50 580,82" fill="none" stroke="#3b4cc0" stroke-width="30" stroke-linecap="round" stroke-linejoin="round"/>
<polygon points="640,418 500,460 400,506 300,536 215,600 640,640" fill="#3b4cc0"/>
</g>
<g transform="translate(-4.58,-4.58) scale(0.32740)">
</g>
</g>
</g></g>
</g>
<rect x="898.50" y="78.40" width="176.10" height="175.50" fill="none" stroke="#000" stroke-width="0.80"/>
<defs><filter id="bf2" x="-20%" y="-20%" width="140%" height="140%"><feGaussianBlur stdDeviation="1.90"/></filter><filter id="bd2" x="-20%" y="-20%" width="140%" height="140%"><feGaussianBlur stdDeviation="0.85"/></filter><clipPath id="ic2"><rect x="0" y="0" width="176.0" height="176.0"/></clipPath>
<clipPath id="qc2_0"><rect x="-70" y="-70" width="632" height="632"/></clipPath>
<clipPath id="qc2_1"><rect x="0" y="-70" width="632" height="632"/></clipPath>
<clipPath id="qc2_2"><rect x="-70" y="0" width="632" height="632"/></clipPath>
<clipPath id="qc2_3"><rect x="0" y="0" width="632" height="632"/></clipPath>
<clipPath id="qc2_4"><rect x="0" y="0" width="562" height="562"/></clipPath>
</defs>
<g transform="translate(1114.40,77.70) scale(1.00455,0.99830)">
<g clip-path="url(#ic2)"><g ><rect x="-20" y="-20" width="216.0" height="216.0" fill="#c8c8d8"/>
<g filter="url(#bf2)">
<g transform="translate(0.00,0.00) scale(0.15658)"><g clip-path="url(#qc2_0)">
<rect x="-80" y="-80" width="722" height="722" fill="#e6e1e4"/>
</g></g>
<g transform="translate(88.00,0.00) scale(0.15658)"><g clip-path="url(#qc2_1)">
<rect x="-80" y="-80" width="722" height="722" fill="#e6e1e4"/>
</g></g>
<g transform="translate(0.00,88.00) scale(0.15658)"><g clip-path="url(#qc2_2)">
<rect x="-80" y="-80" width="722" height="722" fill="#e6e1e4"/>
</g></g>
<g transform="translate(88.00,88.00) scale(0.15658)"><g clip-path="url(#qc2_3)">
<rect x="-80" y="-80" width="722" height="722" fill="#f4b9a2"/>
</g></g>
<g transform="translate(-4.58,-4.58) scale(0.32740)"><g clip-path="url(#qc2_4)">
</g></g>
<g transform="translate(0.00,0.00) scale(0.15658)">
<polygon points="-70,-70 300,-70 262,18 150,62 0,84 -70,84" fill="#9ebeff"/>
<ellipse cx="100" cy="165" rx="150" ry="68" transform="rotate(15 100 165)" fill="#9ebeff"/>
<ellipse cx="385" cy="70" rx="122" ry="58" transform="rotate(0 385 70)" fill="#9ebeff"/>
<ellipse cx="250" cy="128" rx="70" ry="40" transform="rotate(-25 250 128)" fill="#9ebeff"/>
<ellipse cx="392" cy="350" rx="112" ry="72" transform="rotate(-15 392 350)" fill="#9ebeff"/>
<ellipse cx="412" cy="482" rx="112" ry="46" transform="rotate(-5 412 482)" fill="#9ebeff"/>
<path d="M60,430 C100,445 120,490 128,620" fill="none" stroke="#9ebeff" stroke-width="30" stroke-linecap="round" stroke-linejoin="round"/>
<path d="M330,135 C420,125 500,95 620,40" fill="none" stroke="#f2cbb7" stroke-width="62" stroke-linecap="round" stroke-linejoin="round"/>
<path d="M100,132 C170,95 250,50 338,8" fill="none" stroke="#ee8468" stroke-width="62" stroke-linecap="round" stroke-linejoin="round"/>
<path d="M60,246 C200,222 290,196 372,180" fill="none" stroke="#f3967a" stroke-width="56" stroke-linecap="round" stroke-linejoin="round"/>
<ellipse cx="20" cy="360" rx="115" ry="112" transform="rotate(0 20 360)" fill="#ee8468"/>
<path d="M430,425 C460,320 520,230 620,160" fill="none" stroke="#ee8468" stroke-width="72" stroke-linecap="round" stroke-linejoin="round"/>
<path d="M185,290 C170,380 200,460 238,620" fill="none" stroke="#f3967a" stroke-width="60" stroke-linecap="round" stroke-linejoin="round"/>
<path d="M255,320 C280,380 290,420 298,470" fill="none" stroke="#f3967a" stroke-width="52" stroke-linecap="round" stroke-linejoin="round"/>
<path d="M330,565 C420,525 500,522 620,535" fill="none" stroke="#ee8468" stroke-width="84" stroke-linecap="round" stroke-linejoin="round"/>
<path d="M-30,500 C40,520 70,545 90,620" fill="none" stroke="#f3967a" stroke-width="84" stroke-linecap="round" stroke-linejoin="round"/>
<path d="M465,432 C500,412 550,402 620,388" fill="none" stroke="#f3967a" stroke-width="44" stroke-linecap="round" stroke-linejoin="round"/>
</g>
<g transform="translate(88.00,0.00) scale(0.15658)">
<path d="M445,-40 C400,70 360,120 355,170 C355,220 400,280 470,360 C510,400 540,440 620,500" fill="none" stroke="#7b9ff9" stroke-width="110" stroke-linecap="round" stroke-linejoin="round"/>
<ellipse cx="185" cy="135" rx="105" ry="62" transform="rotate(-15 185 135)" fill="#9ebeff"/>
<polygon points="-10,140 110,150 210,225 235,300 165,355 60,315 -10,295" fill="#9ebeff"/>
<path d="M-10,158 C60,100 130,50 240,-20" fill="none" stroke="#9ebeff" stroke-width="50" stroke-linecap="round" stroke-linejoin="round"/>
<path d="M-10,440 C80,420 150,440 250,500 C290,520 330,540 360,580" fill="none" stroke="#9ebeff" stroke-width="46" stroke-linecap="round" stroke-linejoin="round"/>
<path d="M90,330 C160,380 240,420 300,470 C340,500 380,540 410,580" fill="none" stroke="#9ebeff" stroke-width="34" stroke-linecap="round" stroke-linejoin="round"/>
<path d="M-20,70 C30,45 60,15 85,-30" fill="none" stroke="#ee8468" stroke-width="56" stroke-linecap="round" stroke-linejoin="round"/>
<path d="M140,66 C200,42 270,28 350,-5" fill="none" stroke="#f3967a" stroke-width="40" stroke-linecap="round" stroke-linejoin="round"/>
<polygon points="345,35 320,150 320,250 350,350 215,345 205,250 240,160 295,80" fill="#ee8468"/>
<path d="M-10,300 C30,330 60,370 95,405" fill="none" stroke="#f3967a" stroke-width="70" stroke-linecap="round" stroke-linejoin="round"/>
<path d="M130,400 C200,430 280,480 350,550" fill="none" stroke="#f3967a" stroke-width="34" stroke-linecap="round" stroke-linejoin="round"/>
<path d="M240,340 C280,400 320,460 395,540" fill="none" stroke="#f3967a" stroke-width="52" stroke-linecap="round" stroke-linejoin="round"/>
<polygon points="-10,475 120,465 255,528 300,600 -10,600" fill="#ee8468"/>
<polygon points="475,30 640,20 640,430 520,395 468,290 442,200 446,90" fill="#f3967a"/>
</g>
<g transform="translate(0.00,88.00) scale(0.15658)">
<ellipse cx="420" cy="135" rx="200" ry="160" transform="rotate(20 420 135)" fill="#f3967a"/>
<ellipse cx="405" cy="120" rx="130" ry="100" transform="rotate(25 405 120)" fill="#ee8468"/>
<path d="M20,180 C80,280 160,400 260,470 C330,510 400,520 470,500" fill="none" stroke="#f3967a" stroke-width="46" stroke-linecap="round" stroke-linejoin="round"/>
<path d="M230,400 C330,420 430,400 580,380" fill="none" stroke="#f3967a" stroke-width="52" stroke-linecap="round" stroke-linejoin="round"/>
<path d="M250,490 C350,530 450,530 600,550" fill="none" stroke="#ee8468" stroke-width="66" stroke-linecap="round" stroke-linejoin="round"/>
<polygon points="95,95 200,125 335,200 335,268 200,268 115,205" fill="#f3967a"/>
<ellipse cx="150" cy="535" rx="42" ry="32" transform="rotate(0 150 535)" fill="#f3967a"/>
<path d="M40,-10 C60,60 80,110 110,150" fill="none" stroke="#f3967a" stroke-width="30" stroke-linecap="round" stroke-linejoin="round"/>
<polygon points="125,-10 255,-10 245,70 255,155 200,165 148,90" fill="#c0d4f5"/>
<path d="M-10,105 C40,170 100,220 180,280" fill="none" stroke="#7b9ff9" stroke-width="44" stroke-linecap="round" stroke-linejoin="round"/>
<path d="M-10,150 C60,200 140,260 230,300 C280,310 320,270 352,262" fill="none" stroke="#9ebeff" stroke-width="34" stroke-linecap="round" stroke-linejoin="round"/>
<path d="M232,360 C300,352 380,338 452,300" fill="none" stroke="#9ebeff" stroke-width="46" stroke-linecap="round" stroke-linejoin="round"/>
<ellipse cx="30" cy="470" rx="100" ry="145" transform="rotate(0 30 470)" fill="#9ebeff"/>
<path d="M95,500 C105,530 115,550 122,600" fill="none" stroke="#9ebeff" stroke-width="26" stroke-linecap="round" stroke-linejoin="round"/>
<path d="M200,556 C240,560 270,566 310,580" fill="none" stroke="#9ebeff" stroke-width="26" stroke-linecap="round" stroke-linejoin="round"/>
<path d="M10,185 C80,290 160,400 265,468 C330,505 400,515 470,500" fill="none" stroke="#ee8468" stroke-width="34" stroke-linecap="round" stroke-linejoin="round"/>
</g>
<g transform="translate(88.00,88.00) scale(0.15658)">
<path d="M160,-10 C170,80 150,160 162,252" fill="none" stroke="#ee8468" stroke-width="30" stroke-linecap="round" stroke-linejoin="round"/>
<path d="M120,330 C200,360 300,420 380,520" fill="none" stroke="#f3967a" stroke-width="90" stroke-linecap="round" stroke-linejoin="round"/>
<path d="M-10,38 C60,40 112,100 112,190 C112,250 60,290 -10,294" fill="none" stroke="#ee8468" stroke-width="44" stroke-linecap="round" stroke-linejoin="round"/>
<polygon points="285,-70 640,-70 640,340 520,262 440,172 360,112 245,128" fill="#9ebeff"/>
<path d="M232,-10 C222,60 202,120 212,180 C216,230 202,280 182,330" fill="none" stroke="#9ebeff" stroke-width="40" stroke-linecap="round" stroke-linejoin="round"/>
<ellipse cx="30" cy="425" rx="85" ry="56" transform="rotate(0 30 425)" fill="#9ebeff"/>
<path d="M440,262 C470,300 500,340 580,410" fill="none" stroke="#9ebeff" stroke-width="48" stroke-linecap="round" stroke-linejoin="round"/>
<path d="M240,552 C350,502 450,452 600,372" fill="none" stroke="#7b9ff9" stroke-width="48" stroke-linecap="round" stroke-linejoin="round"/>
<path d="M260,150 C300,130 350,140 402,180" fill="none" stroke="#f3967a" stroke-width="60" stroke-linecap="round" stroke-linejoin="round"/>
<path d="M270,230 C320,280 380,270 422,240" fill="none" stroke="#f3967a" stroke-width="60" stroke-linecap="round" stroke-linejoin="round"/>
<ellipse cx="452" cy="380" rx="46" ry="68" transform="rotate(-15 452 380)" fill="#ee8468"/>
<path d="M90,522 C150,460 200,420 232,380" fill="none" stroke="#ee8468" stroke-width="40" stroke-linecap="round" stroke-linejoin="round"/>
<ellipse cx="45" cy="548" rx="44" ry="34" transform="rotate(0 45 548)" fill="#ee8468"/>
<polygon points="640,400 500,455 400,502 300,532 200,600 640,640" fill="#3b4cc0"/>
</g>
<g transform="translate(-4.58,-4.58) scale(0.32740)">
<path d="M100,132 C116,190 126,240 122,285" fill="none" stroke="#e9e6ea" stroke-width="12" stroke-linecap="round" stroke-linejoin="round"/>
<path d="M62,262 C80,320 78,370 60,402" fill="none" stroke="#e9e6ea" stroke-width="15" stroke-linecap="round" stroke-linejoin="round"/>
<path d="M120,292 C130,350 170,400 240,422" fill="none" stroke="#e9e6ea" stroke-width="14" stroke-linecap="round" stroke-linejoin="round"/>
<path d="M330,242 C400,290 440,315 472,332" fill="none" stroke="#e9e6ea" stroke-width="12" stroke-linecap="round" stroke-linejoin="round"/>
<path d="M300,102 C322,140 318,170 300,192" fill="none" stroke="#e9e6ea" stroke-width="15" stroke-linecap="round" stroke-linejoin="round"/>
<path d="M50,432 C120,480 200,510 300,522" fill="none" stroke="#e9e6ea" stroke-width="14" stroke-linecap="round" stroke-linejoin="round"/>
<path d="M350,432 C380,480 400,505 422,522" fill="none" stroke="#e9e6ea" stroke-width="12" stroke-linecap="round" stroke-linejoin="round"/>
<path d="M480,332 C515,410 530,440 546,470" fill="none" stroke="#e9e6ea" stroke-width="12" stroke-linecap="round" stroke-linejoin="round"/>
<path d="M402,102 C430,160 432,200 420,232" fill="none" stroke="#e9e6ea" stroke-width="10" stroke-linecap="round" stroke-linejoin="round"/>
<path d="M200,120 C230,90 270,60 320,40" fill="none" stroke="#e9e6ea" stroke-width="8" stroke-linecap="round" stroke-linejoin="round"/>
<path d="M150,250 C200,245 240,238 290,228" fill="none" stroke="#e9e6ea" stroke-width="8" stroke-linecap="round" stroke-linejoin="round"/>
<path d="M452,40 C446,90 452,130 470,170" fill="none" stroke="#e9e6ea" stroke-width="10" stroke-linecap="round" stroke-linejoin="round"/>
</g>
</g>
<g filter="url(#bd2)">
<g transform="translate(0.00,0.00) scale(0.15658)">
<path d="M0,66 C60,76 110,60 165,32" fill="none" stroke="#e6e1e4" stroke-width="12" stroke-linecap="round" stroke-linejoin="round"/>
<path d="M150,112 C200,86 250,56 298,38" fill="none" stroke="#d65244" stroke-width="20" stroke-linecap="round" stroke-linejoin="round"/>
<path d="M240,232 C280,215 315,196 345,188" fill="none" stroke="#b40426" stroke-width="14" stroke-linecap="round" stroke-linejoin="round"/>
<path d="M440,385 C460,320 510,240 575,180" fill="none" stroke="#d65244" stroke-width="28" stroke-linecap="round" stroke-linejoin="round"/>
<path d="M446,372 C458,325 486,285 512,250" fill="none" stroke="#b40426" stroke-width="14" stroke-linecap="round" stroke-linejoin="round"/>
<ellipse cx="14" cy="322" rx="32" ry="44" transform="rotate(0 14 322)" fill="#b40426"/>
<ellipse cx="30" cy="402" rx="36" ry="14" transform="rotate(-20 30 402)" fill="#d65244"/>
<path d="M385,547 C450,524 520,524 580,534" fill="none" stroke="#d65244" stroke-width="26" stroke-linecap="round" stroke-linejoin="round"/>
<path d="M250,350 C262,385 268,410 270,440" fill="none" stroke="#ee8468" stroke-width="18" stroke-linecap="round" stroke-linejoin="round"/>
<path d="M-10,210 C60,250 100,268 160,270 C260,272 360,240 450,195 C500,170 530,150 575,124" fill="none" stroke="#5876e2" stroke-width="13" stroke-linecap="round" stroke-linejoin="round"/>
<path d="M214,300 C208,380 220,425 252,480" fill="none" stroke="#5876e2" stroke-width="9" stroke-linecap="round" stroke-linejoin="round"/>
<ellipse cx="400" cy="360" rx="40" ry="24" transform="rotate(-25 400 360)" fill="#5876e2"/>
<ellipse cx="400" cy="490" rx="46" ry="13" transform="rotate(-10 400 490)" fill="#5876e2"/>
<polygon points="-20,116 60,128 130,150 190,176 174,199 120,209 60,198 20,174 -20,150" fill="#3b4cc0"/>
<ellipse cx="385" cy="70" rx="90" ry="35" transform="rotate(5 385 70)" fill="#3b4cc0"/>
</g>
<g transform="translate(88.00,0.00) scale(0.15658)">
<path d="M-5,58 C30,42 60,22 86,-5" fill="none" stroke="#d65244" stroke-width="32" stroke-linecap="round" stroke-linejoin="round"/>
<ellipse cx="262" cy="300" rx="38" ry="28" transform="rotate(-20 262 300)" fill="#ee8468"/>
<path d="M-6,246 C10,220 20,200 26,184" fill="none" stroke="#b40426" stroke-width="16" stroke-linecap="round" stroke-linejoin="round"/>
<path d="M-6,404 C40,382 80,386 122,402" fill="none" stroke="#d65244" stroke-width="16" stroke-linecap="round" stroke-linejoin="round"/>
<path d="M-6,529 C50,506 100,516 152,542" fill="none" stroke="#b40426" stroke-width="24" stroke-linecap="round" stroke-linejoin="round"/>
<path d="M285,540 C310,552 330,558 356,570" fill="none" stroke="#d65244" stroke-width="15" stroke-linecap="round" stroke-linejoin="round"/>
<ellipse cx="474" cy="152" rx="20" ry="80" transform="rotate(-5 474 152)" fill="#b40426"/>
<path d="M-6,154 C60,100 130,50 240,-10" fill="none" stroke="#5876e2" stroke-width="15" stroke-linecap="round" stroke-linejoin="round"/>
<ellipse cx="198" cy="132" rx="48" ry="30" transform="rotate(-20 198 132)" fill="#5876e2"/>
<path d="M490,26 C520,30 545,45 580,80" fill="none" stroke="#5876e2" stroke-width="28" stroke-linecap="round" stroke-linejoin="round"/>
<path d="M15,445 C90,428 150,446 240,498" fill="none" stroke="#7b9ff9" stroke-width="12" stroke-linecap="round" stroke-linejoin="round"/>
<path d="M440,-30 C410,40 385,100 385,160 C386,200 398,232 415,258" fill="none" stroke="#3b4cc0" stroke-width="82" stroke-linecap="round" stroke-linejoin="round"/>
<path d="M305,265 C340,330 390,420 470,470 C510,495 540,510 590,530" fill="none" stroke="#3b4cc0" stroke-width="42" stroke-linecap="round" stroke-linejoin="round"/>
<path d="M415,285 C450,330 500,390 580,470" fill="none" stroke="#5876e2" stroke-width="30" stroke-linecap="round" stroke-linejoin="round"/>
</g>
<g transform="translate(0.00,88.00) scale(0.15658)">
<path d="M270,-5 C262,40 266,90 290,130" fill="none" stroke="#f2cbb7" stroke-width="24" stroke-linecap="round" stroke-linejoin="round"/>
<path d="M90,300 C150,380 220,440 300,470" fill="none" stroke="#e6e1e4" stroke-width="16" stroke-linecap="round" stroke-linejoin="round"/>
<path d="M10,290 C50,350 90,420 110,520" fill="none" stroke="#e6e1e4" stroke-width="22" stroke-linecap="round" stroke-linejoin="round"/>
<path d="M330,322 C400,330 480,310 540,270" fill="none" stroke="#f2cbb7" stroke-width="16" stroke-linecap="round" stroke-linejoin="round"/>
<ellipse cx="400" cy="115" rx="98" ry="70" transform="rotate(25 400 115)" fill="#b40426"/>
<path d="M128,168 C158,190 180,196 192,184" fill="none" stroke="#d65244" stroke-width="14" stroke-linecap="round" stroke-linejoin="round"/>
<path d="M200,230 C240,246 280,236 302,225" fill="none" stroke="#d65244" stroke-width="16" stroke-linecap="round" stroke-linejoin="round"/>
<path d="M202,18 C182,60 182,100 212,142" fill="none" stroke="#5876e2" stroke-width="18" stroke-linecap="round" stroke-linejoin="round"/>
<path d="M-5,150 C40,195 90,235 140,262" fill="none" stroke="#5876e2" stroke-width="14" stroke-linecap="round" stroke-linejoin="round"/>
<ellipse cx="545" cy="425" rx="28" ry="40" transform="rotate(0 545 425)" fill="#7b9ff9"/>
<path d="M250,356 C300,350 380,336 452,300" fill="none" stroke="#3b4cc0" stroke-width="17" stroke-linecap="round" stroke-linejoin="round"/>
<ellipse cx="355" cy="290" rx="23" ry="37" transform="rotate(-20 355 290)" fill="#3b4cc0"/>
<path d="M0,30 C18,90 30,120 50,152" fill="none" stroke="#3b4cc0" stroke-width="32" stroke-linecap="round" stroke-linejoin="round"/>
<ellipse cx="22" cy="472" rx="60" ry="115" transform="rotate(0 22 472)" fill="#3b4cc0"/>
</g>
<g transform="translate(88.00,88.00) scale(0.15658)">
<path d="M0,112 C30,122 50,160 40,222" fill="none" stroke="#f2cbb7" stroke-width="18" stroke-linecap="round" stroke-linejoin="round"/>
<path d="M-5,340 C60,352 120,342 182,310" fill="none" stroke="#e6e1e4" stroke-width="16" stroke-linecap="round" stroke-linejoin="round"/>
<path d="M350,5 C420,30 500,80 580,130" fill="none" stroke="#f2cbb7" stroke-width="16" stroke-linecap="round" stroke-linejoin="round"/>
<path d="M420,30 C470,50 520,85 580,128" fill="none" stroke="#f7a889" stroke-width="14" stroke-linecap="round" stroke-linejoin="round"/>
<ellipse cx="50" cy="545" rx="36" ry="24" transform="rotate(0 50 545)" fill="#d65244"/>
<ellipse cx="340" cy="187" rx="34" ry="25" transform="rotate(-20 340 187)" fill="#b40426"/>
<path d="M20,60 C70,75 95,130 92,200" fill="none" stroke="#d65244" stroke-width="14" stroke-linecap="round" stroke-linejoin="round"/>
<path d="M250,350 C300,400 280,480 240,540" fill="none" stroke="#f2cbb7" stroke-width="14" stroke-linecap="round" stroke-linejoin="round"/>
<path d="M300,420 C350,400 390,350 422,300" fill="none" stroke="#c0d4f5" stroke-width="15" stroke-linecap="round" stroke-linejoin="round"/>
<path d="M330,520 C380,480 400,440 412,400" fill="none" stroke="#c0d4f5" stroke-width="13" stroke-linecap="round" stroke-linejoin="round"/>
<ellipse cx="242" cy="42" rx="25" ry="34" transform="rotate(10 242 42)" fill="#7b9ff9"/>
<path d="M260,112 C330,82 420,110 480,170 C520,210 545,260 575,312" fill="none" stroke="#5876e2" stroke-width="16" stroke-linecap="round" stroke-linejoin="round"/>
<ellipse cx="452" cy="266" rx="16" ry="16" transform="rotate(0 452 266)" fill="#5876e2"/>
<ellipse cx="28" cy="420" rx="44" ry="25" transform="rotate(10 28 420)" fill="#5876e2"/>
<ellipse cx="216" cy="242" rx="27" ry="27" transform="rotate(0 216 242)" fill="#3b4cc0"/>
<path d="M470,-5 C510,30 540,50 580,82" fill="none" stroke="#3b4cc0" stroke-width="30" stroke-linecap="round" stroke-linejoin="round"/>
<polygon points="640,418 500,460 400,506 300,536 215,600 640,640" fill="#3b4cc0"/>
</g>
<g transform="translate(-4.58,-4.58) scale(0.32740)">
</g>
</g>
</g></g>
</g>
<rect x="1114.40" y="77.70" width="176.80" height="175.70" fill="none" stroke="#000" stroke-width="0.80"/>
<defs><filter id="bf3" x="-20%" y="-20%" width="140%" height="140%"><feGaussianBlur stdDeviation="1.90"/></filter><filter id="bd3" x="-20%" y="-20%" width="140%" height="140%"><feGaussianBlur stdDeviation="0.85"/></filter><clipPath id="ic3"><rect x="0" y="0" width="176.0" height="176.0"/></clipPath>
<clipPath id="qc3_0"><rect x="-70" y="-70" width="632" height="632"/></clipPath>
<clipPath id="qc3_1"><rect x="0" y="-70" width="632" height="632"/></clipPath>
<clipPath id="qc3_2"><rect x="-70" y="0" width="632" height="632"/></clipPath>
<clipPath id="qc3_3"><rect x="0" y="0" width="632" height="632"/></clipPath>
<clipPath id="qc3_4"><rect x="0" y="0" width="562" height="562"/></clipPath>
</defs>
<g transform="translate(898.80,370.30) scale(1.00000,0.99602)">
<g clip-path="url(#ic3)"><g ><rect x="-20" y="-20" width="216.0" height="216.0" fill="#c8c8d8"/>
<g filter="url(#bf3)">
<g transform="translate(0.00,0.00) scale(0.15658)"><g clip-path="url(#qc3_0)">
<rect x="-80" y="-80" width="722" height="722" fill="#adc3f7"/>
</g></g>
<g transform="translate(88.00,0.00) scale(0.15658)"><g clip-path="url(#qc3_1)">
<rect x="-80" y="-80" width="722" height="722" fill="#adc3f7"/>
</g></g>
<g transform="translate(0.00,88.00) scale(0.15658)"><g clip-path="url(#qc3_2)">
<rect x="-80" y="-80" width="722" height="722" fill="#adc3f7"/>
</g></g>
<g transform="translate(88.00,88.00) scale(0.15658)"><g clip-path="url(#qc3_3)">
<rect x="-80" y="-80" width="722" height="722" fill="#e8e0e6"/>
</g></g>
<g transform="translate(-4.58,-5.89) scale(0.32740)"><g clip-path="url(#qc3_4)">
</g></g>
<g transform="translate(0.00,0.00) scale(0.15658)">
<path d="M600,170 C450,140 350,165 305,240 C285,285 278,320 284,372" fill="none" stroke="#5876e2" stroke-width="120" stroke-linecap="round" stroke-linejoin="round"/>
<path d="M330,225 C420,215 500,230 600,250" fill="none" stroke="#7b9ff9" stroke-width="50" stroke-linecap="round" stroke-linejoin="round"/>
<path d="M170,82 C250,62 330,42 415,30" fill="none" stroke="#f3967a" stroke-width="56" stroke-linecap="round" stroke-linejoin="round"/>
<path d="M275,92 C232,160 202,230 190,300" fill="none" stroke="#f7a889" stroke-width="46" stroke-linecap="round" stroke-linejoin="round"/>
<path d="M80,-10 C90,80 160,140 182,200 C172,280 120,340 20,384" fill="none" stroke="#7b9ff9" stroke-width="34" stroke-linecap="round" stroke-linejoin="round"/>
<ellipse cx="480" cy="335" rx="74" ry="54" transform="rotate(0 480 335)" fill="#f2cbb7"/>
<path d="M188,235 C172,300 112,350 5,392" fill="none" stroke="#5876e2" stroke-width="34" stroke-linecap="round" stroke-linejoin="round"/>
<path d="M10,455 C100,402 200,392 300,402 C400,408 480,422 600,436" fill="none" stroke="#5876e2" stroke-width="46" stroke-linecap="round" stroke-linejoin="round"/>
<path d="M160,560 C170,470 220,440 300,432 C400,442 480,482 600,510" fill="none" stroke="#f3967a" stroke-width="46" stroke-linecap="round" stroke-linejoin="round"/>
<polygon points="-70,-70 70,-70 60,90 -70,100" fill="#dedde8"/>
<path d="M20,100 C30,170 32,240 24,300" fill="none" stroke="#f3967a" stroke-width="18" stroke-linecap="round" stroke-linejoin="round"/>
<path d="M95,150 C105,200 100,250 90,285" fill="none" stroke="#f3967a" stroke-width="24" stroke-linecap="round" stroke-linejoin="round"/>
<polygon points="-20,480 130,490 140,600 -20,600" fill="#dedde8"/>
</g>
<g transform="translate(88.00,0.00) scale(0.15658)">
<ellipse cx="30" cy="120" rx="100" ry="100" transform="rotate(0 30 120)" fill="#7b9ff9"/>
<path d="M275,85 C222,200 150,350 45,480" fill="none" stroke="#f3967a" stroke-width="115" stroke-linecap="round" stroke-linejoin="round"/>
<polygon points="120,430 340,440 360,600 110,600" fill="#f3967a"/>
<ellipse cx="478" cy="312" rx="125" ry="60" transform="rotate(35 478 312)" fill="#9ebeff"/>
<polygon points="280,380 640,380 640,640 330,640" fill="#dedde8"/>
<path d="M-10,300 C20,350 40,400 40,450" fill="none" stroke="#9ebeff" stroke-width="46" stroke-linecap="round" stroke-linejoin="round"/>
<path d="M300,20 C380,50 470,30 560,80" fill="none" stroke="#7b9ff9" stroke-width="50" stroke-linecap="round" stroke-linejoin="round"/>
</g>
<g transform="translate(0.00,88.00) scale(0.15658)">
<ellipse cx="100" cy="242" rx="145" ry="90" transform="rotate(22 100 242)" fill="#f3967a"/>
<path d="M-20,72 C60,60 140,100 240,100" fill="none" stroke="#5876e2" stroke-width="60" stroke-linecap="round" stroke-linejoin="round"/>
<ellipse cx="385" cy="95" rx="115" ry="105" transform="rotate(0 385 95)" fill="#7b9ff9"/>
<path d="M200,62 C250,32 290,12 335,-12" fill="none" stroke="#f3967a" stroke-width="28" stroke-linecap="round" stroke-linejoin="round"/>
<path d="M380,262 C430,332 500,382 600,402" fill="none" stroke="#ee8468" stroke-width="60" stroke-linecap="round" stroke-linejoin="round"/>
<polygon points="420,170 640,150 640,280 420,270" fill="#f2cbb7"/>
<polygon points="290,340 640,400 640,520 320,480" fill="#f2cbb7"/>
<path d="M215,482 C270,500 325,492 345,440" fill="none" stroke="#ee8468" stroke-width="70" stroke-linecap="round" stroke-linejoin="round"/>
<ellipse cx="130" cy="492" rx="72" ry="90" transform="rotate(-15 130 492)" fill="#7b9ff9"/>
<ellipse cx="15" cy="482" rx="44" ry="75" transform="rotate(0 15 482)" fill="#ee8468"/>
<path d="M-10,342 C60,372 120,402 205,402" fill="none" stroke="#9ebeff" stroke-width="34" stroke-linecap="round" stroke-linejoin="round"/>
<path d="M250,120 C240,220 260,320 282,420" fill="none" stroke="#dedde8" stroke-width="44" stroke-linecap="round" stroke-linejoin="round"/>
<path d="M400,545 C480,556 560,560 640,556" fill="none" stroke="#7b9ff9" stroke-width="34" stroke-linecap="round" stroke-linejoin="round"/>
</g>
<g transform="translate(88.00,88.00) scale(0.15658)">
<ellipse cx="70" cy="372" rx="175" ry="112" transform="rotate(25 70 372)" fill="#f3967a"/>
<ellipse cx="180" cy="20" rx="65" ry="62" transform="rotate(0 180 20)" fill="#f3967a"/>
<ellipse cx="495" cy="455" rx="115" ry="55" transform="rotate(12 495 455)" fill="#f3967a"/>
<polygon points="160,80 330,60 410,250 420,400 330,400 200,300 150,180" fill="#9ebeff"/>
<polygon points="-70,-70 120,-70 120,110 -70,120" fill="#adc3f7"/>
<ellipse cx="275" cy="525" rx="60" ry="46" transform="rotate(0 275 525)" fill="#9ebeff"/>
<path d="M392,382 C410,430 420,480 410,570" fill="none" stroke="#7b9ff9" stroke-width="26" stroke-linecap="round" stroke-linejoin="round"/>
</g>
<g transform="translate(-4.58,-5.89) scale(0.32740)">
<path d="M232,122 C245,200 262,280 292,342" fill="none" stroke="#e6e5ee" stroke-width="13" stroke-linecap="round" stroke-linejoin="round"/>
<path d="M422,62 C455,110 455,160 440,202" fill="none" stroke="#e6e5ee" stroke-width="13" stroke-linecap="round" stroke-linejoin="round"/>
<path d="M60,100 C75,112 88,122 102,132" fill="none" stroke="#e6e5ee" stroke-width="12" stroke-linecap="round" stroke-linejoin="round"/>
<path d="M130,352 C160,405 180,428 202,442" fill="none" stroke="#e6e5ee" stroke-width="11" stroke-linecap="round" stroke-linejoin="round"/>
<path d="M402,422 C415,450 425,475 432,502" fill="none" stroke="#e6e5ee" stroke-width="12" stroke-linecap="round" stroke-linejoin="round"/>
<path d="M20,300 C90,312 135,340 162,382" fill="none" stroke="#e6e5ee" stroke-width="10" stroke-linecap="round" stroke-linejoin="round"/>
<path d="M330,200 C335,240 330,280 310,320" fill="none" stroke="#e6e5ee" stroke-width="9" stroke-linecap="round" stroke-linejoin="round"/>
</g>
</g>
<g filter="url(#bd3)">
<g transform="translate(0.00,0.00) scale(0.15658)">
<path d="M620,165 C480,135 395,160 345,212" fill="none" stroke="#3b4cc0" stroke-width="92" stroke-linecap="round" stroke-linejoin="round"/>
<ellipse cx="478" cy="322" rx="52" ry="42" transform="rotate(0 478 322)" fill="#ee8468"/>
<ellipse cx="492" cy="330" rx="20" ry="26" transform="rotate(0 492 330)" fill="#b40426"/>
<ellipse cx="180" cy="492" rx="26" ry="40" transform="rotate(10 180 492)" fill="#d65244"/>
<ellipse cx="292" cy="535" rx="30" ry="26" transform="rotate(0 292 535)" fill="#ee8468"/>
<ellipse cx="40" cy="452" rx="20" ry="30" transform="rotate(0 40 452)" fill="#3b4cc0"/>
<ellipse cx="172" cy="4" rx="22" ry="12" transform="rotate(0 172 4)" fill="#5876e2"/>
<path d="M490,432 C520,436 550,440 600,444" fill="none" stroke="#3b4cc0" stroke-width="30" stroke-linecap="round" stroke-linejoin="round"/>
<path d="M0,510 C50,530 90,540 130,545" fill="none" stroke="#f7a889" stroke-width="12" stroke-linecap="round" stroke-linejoin="round"/>
</g>
<g transform="translate(88.00,0.00) scale(0.15658)">
<path d="M190,140 C230,92 300,82 385,112" fill="none" stroke="#f7a889" stroke-width="13" stroke-linecap="round" stroke-linejoin="round"/>
<path d="M250,330 C260,400 300,450 345,580" fill="none" stroke="#f7a889" stroke-width="20" stroke-linecap="round" stroke-linejoin="round"/>
<path d="M290,232 C400,222 480,262 600,345" fill="none" stroke="#f2cbb7" stroke-width="13" stroke-linecap="round" stroke-linejoin="round"/>
<path d="M420,420 C450,480 480,520 600,545" fill="none" stroke="#f7a889" stroke-width="14" stroke-linecap="round" stroke-linejoin="round"/>
<ellipse cx="500" cy="480" rx="40" ry="30" transform="rotate(0 500 480)" fill="#9ebeff"/>
<ellipse cx="28" cy="118" rx="62" ry="78" transform="rotate(0 28 118)" fill="#5876e2"/>
<ellipse cx="215" cy="222" rx="40" ry="112" transform="rotate(15 215 222)" fill="#b40426"/>
<ellipse cx="200" cy="535" rx="46" ry="72" transform="rotate(20 200 535)" fill="#b40426"/>
<ellipse cx="476" cy="312" rx="102" ry="40" transform="rotate(35 476 312)" fill="#3b4cc0"/>
<path d="M272,200 C320,172 380,172 422,186" fill="none" stroke="#5876e2" stroke-width="26" stroke-linecap="round" stroke-linejoin="round"/>
<path d="M270,202 C250,260 230,330 214,382" fill="none" stroke="#5876e2" stroke-width="14" stroke-linecap="round" stroke-linejoin="round"/>
<ellipse cx="300" cy="40" rx="52" ry="15" transform="rotate(-5 300 40)" fill="#5876e2"/>
<ellipse cx="402" cy="20" rx="42" ry="18" transform="rotate(0 402 20)" fill="#7b9ff9"/>
<ellipse cx="512" cy="100" rx="30" ry="42" transform="rotate(-30 512 100)" fill="#7b9ff9"/>
</g>
<g transform="translate(0.00,88.00) scale(0.15658)">
<path d="M100,10 C160,30 220,50 262,40" fill="none" stroke="#f7a889" stroke-width="16" stroke-linecap="round" stroke-linejoin="round"/>
<path d="M400,242 C450,222 520,202 600,180" fill="none" stroke="#f7a889" stroke-width="13" stroke-linecap="round" stroke-linejoin="round"/>
<path d="M280,352 C350,402 450,452 600,490" fill="none" stroke="#f7a889" stroke-width="14" stroke-linecap="round" stroke-linejoin="round"/>
<path d="M380,362 C450,402 520,432 600,455" fill="none" stroke="#f7a889" stroke-width="14" stroke-linecap="round" stroke-linejoin="round"/>
<ellipse cx="100" cy="240" rx="106" ry="56" transform="rotate(22 100 240)" fill="#b40426"/>
<path d="M20,75 C60,68 100,80 122,92" fill="none" stroke="#3b4cc0" stroke-width="42" stroke-linecap="round" stroke-linejoin="round"/>
<ellipse cx="380" cy="92" rx="72" ry="60" transform="rotate(0 380 92)" fill="#3b4cc0"/>
<ellipse cx="545" cy="322" rx="42" ry="42" transform="rotate(0 545 322)" fill="#b40426"/>
<path d="M232,480 C272,492 312,486 326,452" fill="none" stroke="#b40426" stroke-width="40" stroke-linecap="round" stroke-linejoin="round"/>
<ellipse cx="305" cy="455" rx="38" ry="34" transform="rotate(0 305 455)" fill="#b40426"/>
<ellipse cx="130" cy="492" rx="46" ry="68" transform="rotate(-15 130 492)" fill="#3b4cc0"/>
<ellipse cx="14" cy="482" rx="22" ry="52" transform="rotate(0 14 482)" fill="#d65244"/>
</g>
<g transform="translate(88.00,88.00) scale(0.15658)">
<path d="M380,-5 C400,100 440,200 600,300" fill="none" stroke="#f7a889" stroke-width="16" stroke-linecap="round" stroke-linejoin="round"/>
<path d="M440,-5 C460,80 500,160 600,212" fill="none" stroke="#f7a889" stroke-width="14" stroke-linecap="round" stroke-linejoin="round"/>
<path d="M400,200 C420,280 470,330 600,352" fill="none" stroke="#f7a889" stroke-width="14" stroke-linecap="round" stroke-linejoin="round"/>
<path d="M470,182 C500,232 530,262 600,292" fill="none" stroke="#7b9ff9" stroke-width="12" stroke-linecap="round" stroke-linejoin="round"/>
<path d="M230,332 C300,402 340,482 402,570" fill="none" stroke="#f7a889" stroke-width="12" stroke-linecap="round" stroke-linejoin="round"/>
<path d="M60,142 C100,132 140,127 172,122" fill="none" stroke="#7b9ff9" stroke-width="14" stroke-linecap="round" stroke-linejoin="round"/>
<path d="M300,-5 C330,40 350,80 355,130" fill="none" stroke="#5876e2" stroke-width="14" stroke-linecap="round" stroke-linejoin="round"/>
<ellipse cx="70" cy="370" rx="132" ry="76" transform="rotate(25 70 370)" fill="#b40426"/>
<ellipse cx="176" cy="8" rx="32" ry="32" transform="rotate(0 176 8)" fill="#b40426"/>
<ellipse cx="502" cy="456" rx="62" ry="35" transform="rotate(15 502 456)" fill="#b40426"/>
<path d="M230,102 C280,92 310,122 320,172 C330,212 300,232 250,212" fill="none" stroke="#3b4cc0" stroke-width="40" stroke-linecap="round" stroke-linejoin="round"/>
<path d="M330,232 C340,292 360,342 392,382" fill="none" stroke="#5876e2" stroke-width="32" stroke-linecap="round" stroke-linejoin="round"/>
</g>
<g transform="translate(-4.58,-5.89) scale(0.32740)">
</g>
</g>
</g></g>
</g>
<rect x="898.80" y="370.30" width="176.00" height="175.30" fill="none" stroke="#999" stroke-width="1.00"/>
<defs><filter id="bf4" x="-20%" y="-20%" width="140%" height="140%"><feGaussianBlur stdDeviation="1.90"/></filter><filter id="bd4" x="-20%" y="-20%" width="140%" height="140%"><feGaussianBlur stdDeviation="0.85"/></filter><clipPath id="ic4"><rect x="0" y="0" width="176.0" height="176.0"/></clipPath>
<clipPath id="qc4_0"><rect x="-70" y="-70" width="632" height="632"/></clipPath>
<clipPath id="qc4_1"><rect x="0" y="-70" width="632" height="632"/></clipPath>
<clipPath id="qc4_2"><rect x="-70" y="0" width="632" height="632"/></clipPath>
<clipPath id="qc4_3"><rect x="0" y="0" width="632" height="632"/></clipPath>
<clipPath id="qc4_4"><rect x="0" y="0" width="562" height="562"/></clipPath>
</defs>
<g transform="translate(1114.40,370.50) scale(0.99489,0.99545)">
<g clip-path="url(#ic4)"><g ><rect x="-20" y="-20" width="216.0" height="216.0" fill="#c8c8d8"/>
<g filter="url(#bf4)">
<g transform="translate(0.00,0.00) scale(0.15658)"><g clip-path="url(#qc4_0)">
<rect x="-80" y="-80" width="722" height="722" fill="#b9cdf6"/>
</g></g>
<g transform="translate(88.00,0.00) scale(0.15658)"><g clip-path="url(#qc4_1)">
<rect x="-80" y="-80" width="722" height="722" fill="#b9cdf6"/>
</g></g>
<g transform="translate(0.00,88.00) scale(0.15658)"><g clip-path="url(#qc4_2)">
<rect x="-80" y="-80" width="722" height="722" fill="#b9cdf6"/>
</g></g>
<g transform="translate(88.00,88.00) scale(0.15658)"><g clip-path="url(#qc4_3)">
<rect x="-80" y="-80" width="722" height="722" fill="#b9cdf6"/>
</g></g>
<g transform="translate(-4.58,-5.89) scale(0.32740)"><g clip-path="url(#qc4_4)">
</g></g>
<g transform="translate(0.00,0.00) scale(0.15658)">
<polygon points="-70,340 200,350 210,640 -70,640" fill="#c0d4f5"/>
<ellipse cx="110" cy="52" rx="82" ry="72" transform="rotate(0 110 52)" fill="#f3967a"/>
<ellipse cx="222" cy="152" rx="120" ry="68" transform="rotate(-10 222 152)" fill="#f3967a"/>
<path d="M205,15 C260,60 280,100 335,145" fill="none" stroke="#f3967a" stroke-width="46" stroke-linecap="round" stroke-linejoin="round"/>
<polygon points="375,-70 640,-70 640,480 528,470 512,300 500,210 400,150" fill="#ee8468"/>
<path d="M-20,292 C80,342 180,362 262,342 C300,330 320,360 332,425" fill="none" stroke="#f3967a" stroke-width="56" stroke-linecap="round" stroke-linejoin="round"/>
<path d="M290,300 C320,350 330,400 342,465" fill="none" stroke="#ee8468" stroke-width="54" stroke-linecap="round" stroke-linejoin="round"/>
<path d="M330,230 C400,250 440,330 472,425" fill="none" stroke="#7b9ff9" stroke-width="90" stroke-linecap="round" stroke-linejoin="round"/>
<path d="M350,250 C400,270 440,330 470,400" fill="none" stroke="#5876e2" stroke-width="46" stroke-linecap="round" stroke-linejoin="round"/>
<path d="M-10,200 C60,230 120,250 170,250 C200,240 230,210 280,200 C330,195 380,215 422,252" fill="none" stroke="#7b9ff9" stroke-width="36" stroke-linecap="round" stroke-linejoin="round"/>
<ellipse cx="450" cy="185" rx="55" ry="40" transform="rotate(0 450 185)" fill="#9ebeff"/>
<path d="M300,430 C310,480 320,520 332,600" fill="none" stroke="#9ebeff" stroke-width="46" stroke-linecap="round" stroke-linejoin="round"/>
<polygon points="360,465 640,450 640,640 390,640" fill="#f7a889"/>
<path d="M290,5 C320,50 350,70 372,92" fill="none" stroke="#7b9ff9" stroke-width="34" stroke-linecap="round" stroke-linejoin="round"/>
</g>
<g transform="translate(88.00,0.00) scale(0.15658)">
<path d="M85,15 C72,100 100,180 165,245" fill="none" stroke="#ee8468" stroke-width="48" stroke-linecap="round" stroke-linejoin="round"/>
<path d="M8,-10 C16,150 26,250 38,352" fill="none" stroke="#ee8468" stroke-width="44" stroke-linecap="round" stroke-linejoin="round"/>
<polygon points="150,110 330,100 410,140 380,230 280,300 170,270 110,170" fill="#ee8468"/>
<path d="M100,15 C150,60 200,90 255,100" fill="none" stroke="#7b9ff9" stroke-width="34" stroke-linecap="round" stroke-linejoin="round"/>
<ellipse cx="300" cy="40" rx="110" ry="40" transform="rotate(0 300 40)" fill="#c0d4f5"/>
<path d="M380,200 C440,260 500,320 600,420" fill="none" stroke="#7b9ff9" stroke-width="90" stroke-linecap="round" stroke-linejoin="round"/>
<path d="M100,280 C150,320 190,360 212,412" fill="none" stroke="#7b9ff9" stroke-width="56" stroke-linecap="round" stroke-linejoin="round"/>
<path d="M222,432 C270,382 340,372 422,402" fill="none" stroke="#f3967a" stroke-width="46" stroke-linecap="round" stroke-linejoin="round"/>
<path d="M232,402 C250,352 300,322 332,330" fill="none" stroke="#f3967a" stroke-width="30" stroke-linecap="round" stroke-linejoin="round"/>
<polygon points="-20,470 230,440 260,640 -20,640" fill="#f3967a"/>
<ellipse cx="45" cy="422" rx="80" ry="68" transform="rotate(0 45 422)" fill="#ee8468"/>
<ellipse cx="350" cy="495" rx="160" ry="85" transform="rotate(0 350 495)" fill="#ee8468"/>
<ellipse cx="520" cy="60" rx="125" ry="125" transform="rotate(0 520 60)" fill="#7b9ff9"/>
</g>
<g transform="translate(0.00,88.00) scale(0.15658)">
<polygon points="-70,-70 85,-70 85,210 -70,210" fill="#7b9ff9"/>
<ellipse cx="480" cy="62" rx="110" ry="80" transform="rotate(0 480 62)" fill="#f3967a"/>
<path d="M230,-10 C280,60 350,120 400,180 C440,200 500,190 600,166" fill="none" stroke="#f3967a" stroke-width="46" stroke-linecap="round" stroke-linejoin="round"/>
<ellipse cx="250" cy="125" rx="56" ry="46" transform="rotate(0 250 125)" fill="#f2cbb7"/>
<ellipse cx="290" cy="216" rx="80" ry="50" transform="rotate(0 290 216)" fill="#7b9ff9"/>
<path d="M-10,330 C80,300 160,260 232,240" fill="none" stroke="#7b9ff9" stroke-width="44" stroke-linecap="round" stroke-linejoin="round"/>
<path d="M420,378 C480,350 530,336 600,322" fill="none" stroke="#f3967a" stroke-width="66" stroke-linecap="round" stroke-linejoin="round"/>
<ellipse cx="470" cy="548" rx="105" ry="85" transform="rotate(0 470 548)" fill="#f7a889"/>
<ellipse cx="470" cy="552" rx="60" ry="45" transform="rotate(0 470 552)" fill="#ee8468"/>
<path d="M260,380 C270,450 320,500 382,520" fill="none" stroke="#f3967a" stroke-width="26" stroke-linecap="round" stroke-linejoin="round"/>
<polygon points="140,515 360,515 360,640 140,640" fill="#7b9ff9"/>
<path d="M340,342 C400,322 450,302 600,222" fill="none" stroke="#7b9ff9" stroke-width="40" stroke-linecap="round" stroke-linejoin="round"/>
</g>
<g transform="translate(88.00,88.00) scale(0.15658)">
<ellipse cx="470" cy="250" rx="90" ry="110" transform="rotate(0 470 250)" fill="#9ebeff"/>
<path d="M-20,40 C80,30 180,70 262,132" fill="none" stroke="#ee8468" stroke-width="70" stroke-linecap="round" stroke-linejoin="round"/>
<path d="M475,15 C492,100 470,180 400,232 C340,272 260,292 180,302" fill="none" stroke="#f3967a" stroke-width="56" stroke-linecap="round" stroke-linejoin="round"/>
<polygon points="150,-70 520,-70 480,80 300,60" fill="#f3967a"/>
<path d="M120,212 C180,192 240,182 302,192" fill="none" stroke="#7b9ff9" stroke-width="46" stroke-linecap="round" stroke-linejoin="round"/>
<path d="M-20,402 C100,352 200,332 300,352 C350,366 400,402 452,422" fill="none" stroke="#5876e2" stroke-width="46" stroke-linecap="round" stroke-linejoin="round"/>
<ellipse cx="478" cy="360" rx="60" ry="44" transform="rotate(30 478 360)" fill="#ee8468"/>
<polygon points="25,425 110,400 110,640 25,640" fill="#7b9ff9"/>
<polygon points="310,460 440,460 440,640 310,640" fill="#c0d4f5"/>
<path d="M-10,322 C50,292 110,272 192,262" fill="none" stroke="#ee8468" stroke-width="56" stroke-linecap="round" stroke-linejoin="round"/>
</g>
<g transform="translate(-4.58,-5.89) scale(0.32740)">
<path d="M20,62 C55,110 85,145 122,172" fill="none" stroke="#e8e6ec" stroke-width="11" stroke-linecap="round" stroke-linejoin="round"/>
<path d="M332,152 C365,220 385,260 402,292" fill="none" stroke="#e8e6ec" stroke-width="13" stroke-linecap="round" stroke-linejoin="round"/>
<path d="M300,32 C312,48 322,60 332,72" fill="none" stroke="#e8e6ec" stroke-width="10" stroke-linecap="round" stroke-linejoin="round"/>
<path d="M482,172 C515,230 535,280 546,332" fill="none" stroke="#e8e6ec" stroke-width="12" stroke-linecap="round" stroke-linejoin="round"/>
<path d="M30,202 C95,255 140,295 182,332" fill="none" stroke="#e8e6ec" stroke-width="10" stroke-linecap="round" stroke-linejoin="round"/>
<path d="M100,402 C150,450 180,490 202,522" fill="none" stroke="#e8e6ec" stroke-width="11" stroke-linecap="round" stroke-linejoin="round"/>
<path d="M332,472 C400,452 440,438 482,422" fill="none" stroke="#e8e6ec" stroke-width="10" stroke-linecap="round" stroke-linejoin="round"/>
<path d="M420,502 C470,522 510,515 542,500" fill="none" stroke="#e8e6ec" stroke-width="10" stroke-linecap="round" stroke-linejoin="round"/>
<path d="M150,60 C175,95 190,120 200,140" fill="none" stroke="#e8e6ec" stroke-width="9" stroke-linecap="round" stroke-linejoin="round"/>
<path d="M30,440 C40,480 45,510 40,545" fill="none" stroke="#e8e6ec" stroke-width="9" stroke-linecap="round" stroke-linejoin="round"/>
</g>
</g>
<g filter="url(#bd4)">
<g transform="translate(0.00,0.00) scale(0.15658)">
<ellipse cx="112" cy="52" rx="46" ry="40" transform="rotate(0 112 52)" fill="#d65244"/>
<ellipse cx="118" cy="48" rx="18" ry="16" transform="rotate(0 118 48)" fill="#b40426"/>
<path d="M395,22 C420,70 470,95 545,112" fill="none" stroke="#b40426" stroke-width="38" stroke-linecap="round" stroke-linejoin="round"/>
<path d="M552,-10 C548,20 550,40 556,60" fill="none" stroke="#d65244" stroke-width="24" stroke-linecap="round" stroke-linejoin="round"/>
<ellipse cx="525" cy="435" rx="30" ry="30" transform="rotate(0 525 435)" fill="#b40426"/>
<path d="M-10,260 C60,300 130,330 200,330 C230,325 250,300 270,290" fill="none" stroke="#b40426" stroke-width="15" stroke-linecap="round" stroke-linejoin="round"/>
<path d="M205,292 C225,270 262,270 300,292" fill="none" stroke="#b40426" stroke-width="26" stroke-linecap="round" stroke-linejoin="round"/>
<ellipse cx="385" cy="285" rx="40" ry="46" transform="rotate(0 385 285)" fill="#3b4cc0"/>
<ellipse cx="480" cy="376" rx="28" ry="40" transform="rotate(10 480 376)" fill="#3b4cc0"/>
<path d="M30,340 C80,400 120,440 152,472" fill="none" stroke="#f7a889" stroke-width="24" stroke-linecap="round" stroke-linejoin="round"/>
<path d="M0,380 C30,430 60,500 72,580" fill="none" stroke="#f2cbb7" stroke-width="18" stroke-linecap="round" stroke-linejoin="round"/>
<ellipse cx="10" cy="440" rx="16" ry="26" transform="rotate(0 10 440)" fill="#5876e2"/>
<ellipse cx="30" cy="545" rx="22" ry="22" transform="rotate(0 30 545)" fill="#5876e2"/>
<path d="M180,400 C220,430 240,470 250,522" fill="none" stroke="#7b9ff9" stroke-width="20" stroke-linecap="round" stroke-linejoin="round"/>
<ellipse cx="540" cy="462" rx="30" ry="22" transform="rotate(0 540 462)" fill="#d65244"/>
</g>
<g transform="translate(88.00,0.00) scale(0.15658)">
<ellipse cx="240" cy="186" rx="92" ry="60" transform="rotate(-25 240 186)" fill="#b40426"/>
<path d="M250,132 C300,116 340,126 372,162" fill="none" stroke="#b40426" stroke-width="30" stroke-linecap="round" stroke-linejoin="round"/>
<ellipse cx="44" cy="422" rx="56" ry="46" transform="rotate(0 44 422)" fill="#b40426"/>
<ellipse cx="350" cy="495" rx="132" ry="62" transform="rotate(0 350 495)" fill="#b40426"/>
<path d="M412,500 C420,520 435,540 450,570" fill="none" stroke="#ee8468" stroke-width="20" stroke-linecap="round" stroke-linejoin="round"/>
<ellipse cx="525" cy="58" rx="102" ry="102" transform="rotate(0 525 58)" fill="#3b4cc0"/>
<path d="M400,102 C450,170 500,220 600,272" fill="none" stroke="#d65244" stroke-width="18" stroke-linecap="round" stroke-linejoin="round"/>
<path d="M410,190 C470,250 520,300 600,340" fill="none" stroke="#f7a889" stroke-width="14" stroke-linecap="round" stroke-linejoin="round"/>
<path d="M450,382 C480,400 510,412 545,420" fill="none" stroke="#5876e2" stroke-width="30" stroke-linecap="round" stroke-linejoin="round"/>
<path d="M-60,500 C20,520 100,540 200,585" fill="none" stroke="#9ebeff" stroke-width="24" stroke-linecap="round" stroke-linejoin="round"/>
<ellipse cx="262" cy="30" rx="40" ry="18" transform="rotate(0 262 30)" fill="#f2cbb7"/>
</g>
<g transform="translate(0.00,88.00) scale(0.15658)">
<ellipse cx="105" cy="90" rx="22" ry="76" transform="rotate(-5 105 90)" fill="#3b4cc0"/>
<ellipse cx="30" cy="255" rx="24" ry="42" transform="rotate(20 30 255)" fill="#3b4cc0"/>
<ellipse cx="290" cy="220" rx="42" ry="26" transform="rotate(-10 290 220)" fill="#5876e2"/>
<path d="M340,340 C400,320 450,300 502,270" fill="none" stroke="#3b4cc0" stroke-width="22" stroke-linecap="round" stroke-linejoin="round"/>
<path d="M360,70 C380,90 400,110 412,122" fill="none" stroke="#5876e2" stroke-width="22" stroke-linecap="round" stroke-linejoin="round"/>
<ellipse cx="482" cy="66" rx="46" ry="42" transform="rotate(0 482 66)" fill="#d65244"/>
<ellipse cx="490" cy="70" rx="20" ry="20" transform="rotate(0 490 70)" fill="#b40426"/>
<path d="M432,374 C480,350 530,335 600,320" fill="none" stroke="#b40426" stroke-width="24" stroke-linecap="round" stroke-linejoin="round"/>
<path d="M30,440 C60,390 130,330 252,292" fill="none" stroke="#f7a889" stroke-width="12" stroke-linecap="round" stroke-linejoin="round"/>
<path d="M40,400 C50,450 60,500 82,580" fill="none" stroke="#f7a889" stroke-width="14" stroke-linecap="round" stroke-linejoin="round"/>
<path d="M150,40 C170,90 200,130 232,162" fill="none" stroke="#f2cbb7" stroke-width="16" stroke-linecap="round" stroke-linejoin="round"/>
<ellipse cx="130" cy="560" rx="30" ry="16" transform="rotate(0 130 560)" fill="#ee8468"/>
<path d="M8,450 C12,500 14,540 14,600" fill="none" stroke="#5876e2" stroke-width="30" stroke-linecap="round" stroke-linejoin="round"/>
</g>
<g transform="translate(88.00,88.00) scale(0.15658)">
<path d="M338,18 C380,46 420,42 442,-5" fill="none" stroke="#b40426" stroke-width="38" stroke-linecap="round" stroke-linejoin="round"/>
<ellipse cx="355" cy="120" rx="56" ry="45" transform="rotate(20 355 120)" fill="#3b4cc0"/>
<path d="M200,30 C250,50 290,70 322,92" fill="none" stroke="#5876e2" stroke-width="30" stroke-linecap="round" stroke-linejoin="round"/>
<path d="M-12,320 C50,290 110,270 192,260" fill="none" stroke="#b40426" stroke-width="30" stroke-linecap="round" stroke-linejoin="round"/>
<path d="M0,100 C60,110 90,150 60,202" fill="none" stroke="#f7a889" stroke-width="20" stroke-linecap="round" stroke-linejoin="round"/>
<path d="M-10,240 C60,200 100,170 112,140" fill="none" stroke="#5876e2" stroke-width="14" stroke-linecap="round" stroke-linejoin="round"/>
<path d="M250,345 C320,350 380,380 422,408" fill="none" stroke="#3b4cc0" stroke-width="26" stroke-linecap="round" stroke-linejoin="round"/>
<path d="M100,450 C150,420 220,420 250,462 C260,502 200,502 150,482" fill="none" stroke="#ee8468" stroke-width="24" stroke-linecap="round" stroke-linejoin="round"/>
<path d="M60,490 C100,510 150,530 202,570" fill="none" stroke="#f7a889" stroke-width="20" stroke-linecap="round" stroke-linejoin="round"/>
<path d="M270,420 C290,460 300,500 290,542" fill="none" stroke="#5876e2" stroke-width="26" stroke-linecap="round" stroke-linejoin="round"/>
<ellipse cx="525" cy="535" rx="62" ry="52" transform="rotate(0 525 535)" fill="#3b4cc0"/>
<path d="M400,300 C420,340 470,372 542,402" fill="none" stroke="#f7a889" stroke-width="16" stroke-linecap="round" stroke-linejoin="round"/>
</g>
<g transform="translate(-4.58,-5.89) scale(0.32740)">
</g>
</g>
</g></g>
</g>
<rect x="1114.40" y="370.50" width="175.10" height="175.20" fill="none" stroke="#000" stroke-width="0.80"/>
</svg></body></html>
